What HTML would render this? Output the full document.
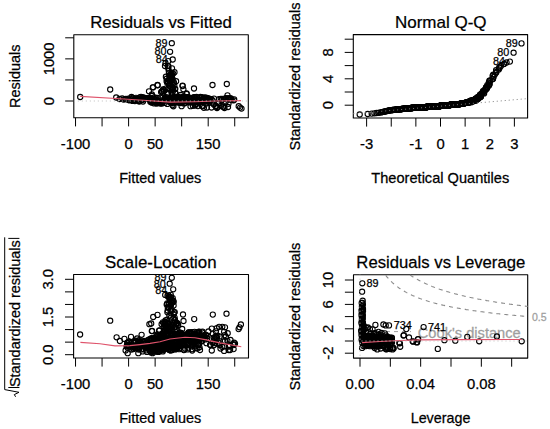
<!DOCTYPE html>
<html><head><meta charset="utf-8"><style>
html,body{margin:0;padding:0;background:#fff;}
svg{display:block;}
text{font-family:"Liberation Sans", sans-serif;stroke-width:0.25px;}
</style></head><body>
<svg width="550" height="429" viewBox="0 0 550 429">
<rect width="550" height="429" fill="#fff"/>
<rect x="73.80" y="34.80" width="174.50" height="83.00" fill="none" stroke="#000" stroke-width="1.1" stroke-linejoin="round"/>
<line x1="75.54" y1="117.80" x2="75.54" y2="126.40" stroke="#000" stroke-width="1" />
<line x1="102.07" y1="117.80" x2="102.07" y2="126.40" stroke="#000" stroke-width="1" />
<line x1="128.60" y1="117.80" x2="128.60" y2="126.40" stroke="#000" stroke-width="1" />
<line x1="155.13" y1="117.80" x2="155.13" y2="126.40" stroke="#000" stroke-width="1" />
<line x1="181.66" y1="117.80" x2="181.66" y2="126.40" stroke="#000" stroke-width="1" />
<line x1="208.19" y1="117.80" x2="208.19" y2="126.40" stroke="#000" stroke-width="1" />
<line x1="234.72" y1="117.80" x2="234.72" y2="126.40" stroke="#000" stroke-width="1" />
<text x="75.54" y="149.30" font-size="14.8" text-anchor="middle" fill="#000" stroke="#000" >-100</text>
<text x="128.60" y="149.30" font-size="14.8" text-anchor="middle" fill="#000" stroke="#000" >0</text>
<text x="155.13" y="149.30" font-size="14.8" text-anchor="middle" fill="#000" stroke="#000" >50</text>
<text x="208.19" y="149.30" font-size="14.8" text-anchor="middle" fill="#000" stroke="#000" >150</text>
<line x1="65.20" y1="101.00" x2="73.80" y2="101.00" stroke="#000" stroke-width="1" />
<line x1="65.20" y1="79.94" x2="73.80" y2="79.94" stroke="#000" stroke-width="1" />
<line x1="65.20" y1="58.87" x2="73.80" y2="58.87" stroke="#000" stroke-width="1" />
<line x1="65.20" y1="37.80" x2="73.80" y2="37.80" stroke="#000" stroke-width="1" />
<text x="53.80" y="101.00" font-size="14.8" text-anchor="middle" fill="#000" stroke="#000" transform="rotate(-90 53.80 101.00)" >0</text>
<text x="53.80" y="58.87" font-size="14.8" text-anchor="middle" fill="#000" stroke="#000" transform="rotate(-90 53.80 58.87)" >1000</text>
<text transform="translate(91.10 27.80) scale(0.9643 1)" x="-0.99" y="0" font-size="17.4" fill="#000" stroke="#000" >Residuals vs Fitted</text>
<text transform="translate(120.10 183.20) scale(0.9930 1)" x="-0.96" y="0" font-size="14.6" fill="#000" stroke="#000" >Fitted values</text>
<text transform="translate(19.80 107.00) rotate(-90) scale(0.9891 1)" x="-0.96" y="0" font-size="14.6" fill="#000" stroke="#000" >Residuals</text>
<rect x="353.30" y="34.60" width="174.30" height="83.40" fill="none" stroke="#000" stroke-width="1.1" stroke-linejoin="round"/>
<line x1="366.61" y1="118.00" x2="366.61" y2="126.60" stroke="#000" stroke-width="1" />
<line x1="391.24" y1="118.00" x2="391.24" y2="126.60" stroke="#000" stroke-width="1" />
<line x1="415.87" y1="118.00" x2="415.87" y2="126.60" stroke="#000" stroke-width="1" />
<line x1="440.50" y1="118.00" x2="440.50" y2="126.60" stroke="#000" stroke-width="1" />
<line x1="465.13" y1="118.00" x2="465.13" y2="126.60" stroke="#000" stroke-width="1" />
<line x1="489.76" y1="118.00" x2="489.76" y2="126.60" stroke="#000" stroke-width="1" />
<line x1="514.39" y1="118.00" x2="514.39" y2="126.60" stroke="#000" stroke-width="1" />
<text x="366.61" y="149.30" font-size="14.8" text-anchor="middle" fill="#000" stroke="#000" >-3</text>
<text x="415.87" y="149.30" font-size="14.8" text-anchor="middle" fill="#000" stroke="#000" >-1</text>
<text x="440.50" y="149.30" font-size="14.8" text-anchor="middle" fill="#000" stroke="#000" >0</text>
<text x="465.13" y="149.30" font-size="14.8" text-anchor="middle" fill="#000" stroke="#000" >1</text>
<text x="489.76" y="149.30" font-size="14.8" text-anchor="middle" fill="#000" stroke="#000" >2</text>
<text x="514.39" y="149.30" font-size="14.8" text-anchor="middle" fill="#000" stroke="#000" >3</text>
<line x1="344.70" y1="105.20" x2="353.30" y2="105.20" stroke="#000" stroke-width="1" />
<line x1="344.70" y1="92.00" x2="353.30" y2="92.00" stroke="#000" stroke-width="1" />
<line x1="344.70" y1="78.80" x2="353.30" y2="78.80" stroke="#000" stroke-width="1" />
<line x1="344.70" y1="65.60" x2="353.30" y2="65.60" stroke="#000" stroke-width="1" />
<line x1="344.70" y1="52.40" x2="353.30" y2="52.40" stroke="#000" stroke-width="1" />
<line x1="344.70" y1="39.20" x2="353.30" y2="39.20" stroke="#000" stroke-width="1" />
<text x="333.30" y="105.20" font-size="14.8" text-anchor="middle" fill="#000" stroke="#000" transform="rotate(-90 333.30 105.20)" >0</text>
<text x="333.30" y="78.80" font-size="14.8" text-anchor="middle" fill="#000" stroke="#000" transform="rotate(-90 333.30 78.80)" >4</text>
<text x="333.30" y="52.40" font-size="14.8" text-anchor="middle" fill="#000" stroke="#000" transform="rotate(-90 333.30 52.40)" >8</text>
<text transform="translate(395.90 27.80) scale(0.9780 1)" x="-0.99" y="0" font-size="17.4" fill="#000" stroke="#000" >Normal Q-Q</text>
<text transform="translate(371.70 183.20) scale(1.0004 1)" x="-0.38" y="0" font-size="14.6" fill="#000" stroke="#000" >Theoretical Quantiles</text>
<text transform="translate(299.60 149.60) rotate(-90) scale(0.9960 1)" x="-0.86" y="0" font-size="14.6" fill="#000" stroke="#000" >Standardized residuals</text>
<rect x="73.60" y="274.50" width="174.90" height="83.50" fill="none" stroke="#000" stroke-width="1.1" stroke-linejoin="round"/>
<line x1="75.54" y1="358.00" x2="75.54" y2="366.60" stroke="#000" stroke-width="1" />
<line x1="102.07" y1="358.00" x2="102.07" y2="366.60" stroke="#000" stroke-width="1" />
<line x1="128.60" y1="358.00" x2="128.60" y2="366.60" stroke="#000" stroke-width="1" />
<line x1="155.13" y1="358.00" x2="155.13" y2="366.60" stroke="#000" stroke-width="1" />
<line x1="181.66" y1="358.00" x2="181.66" y2="366.60" stroke="#000" stroke-width="1" />
<line x1="208.19" y1="358.00" x2="208.19" y2="366.60" stroke="#000" stroke-width="1" />
<line x1="234.72" y1="358.00" x2="234.72" y2="366.60" stroke="#000" stroke-width="1" />
<text x="75.54" y="389.30" font-size="14.8" text-anchor="middle" fill="#000" stroke="#000" >-100</text>
<text x="128.60" y="389.30" font-size="14.8" text-anchor="middle" fill="#000" stroke="#000" >0</text>
<text x="155.13" y="389.30" font-size="14.8" text-anchor="middle" fill="#000" stroke="#000" >50</text>
<text x="208.19" y="389.30" font-size="14.8" text-anchor="middle" fill="#000" stroke="#000" >150</text>
<line x1="65.00" y1="354.70" x2="73.60" y2="354.70" stroke="#000" stroke-width="1" />
<line x1="65.00" y1="342.13" x2="73.60" y2="342.13" stroke="#000" stroke-width="1" />
<line x1="65.00" y1="329.57" x2="73.60" y2="329.57" stroke="#000" stroke-width="1" />
<line x1="65.00" y1="317.00" x2="73.60" y2="317.00" stroke="#000" stroke-width="1" />
<line x1="65.00" y1="304.44" x2="73.60" y2="304.44" stroke="#000" stroke-width="1" />
<line x1="65.00" y1="291.88" x2="73.60" y2="291.88" stroke="#000" stroke-width="1" />
<line x1="65.00" y1="279.31" x2="73.60" y2="279.31" stroke="#000" stroke-width="1" />
<text x="53.30" y="354.70" font-size="14.8" text-anchor="middle" fill="#000" stroke="#000" transform="rotate(-90 53.30 354.70)" >0.0</text>
<text x="53.30" y="317.00" font-size="14.8" text-anchor="middle" fill="#000" stroke="#000" transform="rotate(-90 53.30 317.00)" >1.5</text>
<text x="53.30" y="279.31" font-size="14.8" text-anchor="middle" fill="#000" stroke="#000" transform="rotate(-90 53.30 279.31)" >3.0</text>
<text transform="translate(105.90 267.70) scale(0.9698 1)" x="-0.85" y="0" font-size="17.4" fill="#000" stroke="#000" >Scale-Location</text>
<text transform="translate(120.20 423.30) scale(0.9917 1)" x="-0.96" y="0" font-size="14.6" fill="#000" stroke="#000" >Fitted values</text>
<text transform="translate(19.50 386.20) rotate(-90) scale(0.9886 1)" x="-0.86" y="0" font-size="14.6" fill="#000" stroke="#000" >Standardized residuals</text>
<path d="M19.4 238.4 L8.3 238.4 M19.4 387.5 L8.3 387.5" stroke="#000" stroke-width="1"/>
<path d="M4.7 237.3 L4.7 389.6 L19.0 392.3 L14.3 394.6 L15.6 396.8" fill="none" stroke="#000" stroke-width="1" stroke-linejoin="round"/>
<rect x="353.50" y="274.70" width="174.20" height="83.40" fill="none" stroke="#000" stroke-width="1.1" stroke-linejoin="round"/>
<line x1="360.00" y1="358.10" x2="360.00" y2="366.70" stroke="#000" stroke-width="1" />
<line x1="390.33" y1="358.10" x2="390.33" y2="366.70" stroke="#000" stroke-width="1" />
<line x1="420.67" y1="358.10" x2="420.67" y2="366.70" stroke="#000" stroke-width="1" />
<line x1="451.00" y1="358.10" x2="451.00" y2="366.70" stroke="#000" stroke-width="1" />
<line x1="481.34" y1="358.10" x2="481.34" y2="366.70" stroke="#000" stroke-width="1" />
<line x1="511.67" y1="358.10" x2="511.67" y2="366.70" stroke="#000" stroke-width="1" />
<text x="360.00" y="389.30" font-size="14.8" text-anchor="middle" fill="#000" stroke="#000" >0.00</text>
<text x="420.67" y="389.30" font-size="14.8" text-anchor="middle" fill="#000" stroke="#000" >0.04</text>
<text x="481.34" y="389.30" font-size="14.8" text-anchor="middle" fill="#000" stroke="#000" >0.08</text>
<line x1="344.90" y1="353.20" x2="353.50" y2="353.20" stroke="#000" stroke-width="1" />
<line x1="344.90" y1="341.00" x2="353.50" y2="341.00" stroke="#000" stroke-width="1" />
<line x1="344.90" y1="328.80" x2="353.50" y2="328.80" stroke="#000" stroke-width="1" />
<line x1="344.90" y1="316.60" x2="353.50" y2="316.60" stroke="#000" stroke-width="1" />
<line x1="344.90" y1="304.40" x2="353.50" y2="304.40" stroke="#000" stroke-width="1" />
<line x1="344.90" y1="292.20" x2="353.50" y2="292.20" stroke="#000" stroke-width="1" />
<line x1="344.90" y1="280.00" x2="353.50" y2="280.00" stroke="#000" stroke-width="1" />
<text x="333.30" y="353.20" font-size="14.8" text-anchor="middle" fill="#000" stroke="#000" transform="rotate(-90 333.30 353.20)" >-2</text>
<text x="333.30" y="328.80" font-size="14.8" text-anchor="middle" fill="#000" stroke="#000" transform="rotate(-90 333.30 328.80)" >2</text>
<text x="333.30" y="304.40" font-size="14.8" text-anchor="middle" fill="#000" stroke="#000" transform="rotate(-90 333.30 304.40)" >6</text>
<text x="333.30" y="280.00" font-size="14.8" text-anchor="middle" fill="#000" stroke="#000" transform="rotate(-90 333.30 280.00)" >10</text>
<text transform="translate(357.30 267.70) scale(0.9600 1)" x="-0.99" y="0" font-size="17.4" fill="#000" stroke="#000" >Residuals vs Leverage</text>
<text transform="translate(411.60 423.30) scale(0.9809 1)" x="-0.96" y="0" font-size="14.6" fill="#000" stroke="#000" >Leverage</text>
<text transform="translate(299.60 389.60) rotate(-90) scale(0.9947 1)" x="-0.86" y="0" font-size="14.6" fill="#000" stroke="#000" >Standardized residuals</text>
<g fill="none" stroke="#000" stroke-width="1.1">
<circle cx="80.2" cy="97.0" r="2.6"/>
<circle cx="110.2" cy="89.5" r="2.6"/>
<circle cx="116.2" cy="97.5" r="2.6"/>
<circle cx="119.5" cy="99.0" r="2.6"/>
<circle cx="131.5" cy="97.0" r="2.6"/>
<circle cx="141.0" cy="96.8" r="2.6"/>
<circle cx="149.0" cy="91.3" r="2.6"/>
<circle cx="153.2" cy="87.3" r="2.6"/>
<circle cx="157.5" cy="85.0" r="2.6"/>
<circle cx="152.0" cy="96.0" r="2.6"/>
<circle cx="162.0" cy="91.5" r="2.6"/>
<circle cx="151.9" cy="94.5" r="2.6"/>
<circle cx="182.6" cy="85.6" r="2.6"/>
<circle cx="183.4" cy="89.3" r="2.6"/>
<circle cx="186.8" cy="94.0" r="2.6"/>
<circle cx="180.8" cy="95.0" r="2.6"/>
<circle cx="186.5" cy="93.5" r="2.6"/>
<circle cx="194.0" cy="88.5" r="2.6"/>
<circle cx="212.5" cy="85.0" r="2.6"/>
<circle cx="226.8" cy="84.0" r="2.6"/>
<circle cx="227.5" cy="95.3" r="2.6"/>
<circle cx="211.5" cy="107.5" r="2.6"/>
<circle cx="217.0" cy="108.0" r="2.6"/>
<circle cx="224.5" cy="108.0" r="2.6"/>
<circle cx="203.0" cy="106.0" r="2.6"/>
<circle cx="195.0" cy="105.5" r="2.6"/>
<circle cx="221.0" cy="106.0" r="2.6"/>
<circle cx="207.0" cy="107.5" r="2.6"/>
<circle cx="228.0" cy="107.0" r="2.6"/>
<circle cx="238.7" cy="106.2" r="2.6"/>
<circle cx="240.1" cy="107.6" r="2.6"/>
<circle cx="241.5" cy="108.6" r="2.6"/>
<circle cx="171.8" cy="43.2" r="2.6"/>
<circle cx="170.1" cy="51.8" r="2.6"/>
<circle cx="172.7" cy="59.5" r="2.6"/>
<circle cx="168.3" cy="61.1" r="2.6"/>
<circle cx="165.5" cy="63.2" r="2.6"/>
<circle cx="165.0" cy="66.0" r="2.6"/>
<circle cx="165.9" cy="76.7" r="2.6"/>
<circle cx="166.7" cy="78.7" r="2.6"/>
<circle cx="174.5" cy="72.2" r="2.6"/>
<circle cx="176.1" cy="81.2" r="2.6"/>
<circle cx="157.7" cy="85.3" r="2.6"/>
<circle cx="152.8" cy="87.3" r="2.6"/>
<circle cx="182.6" cy="86.1" r="2.6"/>
<circle cx="136.0" cy="100.0" r="2.6"/>
<circle cx="204.6" cy="99.8" r="2.6"/>
<circle cx="212.6" cy="100.6" r="2.6"/>
<circle cx="128.4" cy="100.0" r="2.6"/>
<circle cx="229.8" cy="99.0" r="2.6"/>
<circle cx="155.2" cy="102.6" r="2.6"/>
<circle cx="142.9" cy="97.7" r="2.6"/>
<circle cx="141.1" cy="99.1" r="2.6"/>
<circle cx="194.9" cy="97.2" r="2.6"/>
<circle cx="209.5" cy="100.9" r="2.6"/>
<circle cx="225.9" cy="98.2" r="2.6"/>
<circle cx="171.4" cy="101.5" r="2.6"/>
<circle cx="190.3" cy="102.2" r="2.6"/>
<circle cx="209.7" cy="100.4" r="2.6"/>
<circle cx="152.9" cy="101.1" r="2.6"/>
<circle cx="180.8" cy="99.0" r="2.6"/>
<circle cx="218.9" cy="99.2" r="2.6"/>
<circle cx="175.6" cy="102.5" r="2.6"/>
<circle cx="195.2" cy="98.3" r="2.6"/>
<circle cx="179.1" cy="100.3" r="2.6"/>
<circle cx="187.2" cy="97.4" r="2.6"/>
<circle cx="201.6" cy="97.2" r="2.6"/>
<circle cx="144.6" cy="98.8" r="2.6"/>
<circle cx="191.7" cy="101.6" r="2.6"/>
<circle cx="206.6" cy="100.9" r="2.6"/>
<circle cx="132.3" cy="97.8" r="2.6"/>
<circle cx="180.5" cy="102.2" r="2.6"/>
<circle cx="143.5" cy="99.4" r="2.6"/>
<circle cx="228.6" cy="99.5" r="2.6"/>
<circle cx="202.4" cy="101.3" r="2.6"/>
<circle cx="196.2" cy="100.2" r="2.6"/>
<circle cx="182.8" cy="102.0" r="2.6"/>
<circle cx="142.2" cy="98.3" r="2.6"/>
<circle cx="194.0" cy="97.2" r="2.6"/>
<circle cx="166.0" cy="100.7" r="2.6"/>
<circle cx="174.5" cy="99.1" r="2.6"/>
<circle cx="172.1" cy="97.8" r="2.6"/>
<circle cx="186.8" cy="98.3" r="2.6"/>
<circle cx="136.0" cy="97.9" r="2.6"/>
<circle cx="167.3" cy="103.9" r="2.6"/>
<circle cx="165.9" cy="98.4" r="2.6"/>
<circle cx="202.1" cy="97.8" r="2.6"/>
<circle cx="150.8" cy="98.5" r="2.6"/>
<circle cx="128.4" cy="98.7" r="2.6"/>
<circle cx="194.2" cy="101.4" r="2.6"/>
<circle cx="160.3" cy="101.8" r="2.6"/>
<circle cx="171.0" cy="102.2" r="2.6"/>
<circle cx="160.2" cy="102.8" r="2.6"/>
<circle cx="201.3" cy="100.4" r="2.6"/>
<circle cx="139.4" cy="99.4" r="2.6"/>
<circle cx="171.3" cy="98.0" r="2.6"/>
<circle cx="183.3" cy="98.4" r="2.6"/>
<circle cx="192.2" cy="101.5" r="2.6"/>
<circle cx="134.9" cy="101.1" r="2.6"/>
<circle cx="187.4" cy="97.1" r="2.6"/>
<circle cx="154.2" cy="103.4" r="2.6"/>
<circle cx="186.7" cy="98.1" r="2.6"/>
<circle cx="165.0" cy="100.0" r="2.6"/>
<circle cx="207.8" cy="101.0" r="2.6"/>
<circle cx="205.2" cy="99.3" r="2.6"/>
<circle cx="151.9" cy="102.3" r="2.6"/>
<circle cx="210.2" cy="99.1" r="2.6"/>
<circle cx="178.3" cy="100.7" r="2.6"/>
<circle cx="178.7" cy="97.9" r="2.6"/>
<circle cx="186.7" cy="98.1" r="2.6"/>
<circle cx="133.1" cy="98.7" r="2.6"/>
<circle cx="159.2" cy="102.6" r="2.6"/>
<circle cx="155.9" cy="97.9" r="2.6"/>
<circle cx="150.3" cy="101.7" r="2.6"/>
<circle cx="170.9" cy="102.5" r="2.6"/>
<circle cx="168.8" cy="99.4" r="2.6"/>
<circle cx="141.7" cy="97.7" r="2.6"/>
<circle cx="150.1" cy="98.0" r="2.6"/>
<circle cx="230.0" cy="98.4" r="2.6"/>
<circle cx="122.2" cy="98.4" r="2.6"/>
<circle cx="196.5" cy="97.0" r="2.6"/>
<circle cx="160.2" cy="97.6" r="2.6"/>
<circle cx="191.1" cy="99.3" r="2.6"/>
<circle cx="209.5" cy="100.5" r="2.6"/>
<circle cx="211.5" cy="99.2" r="2.6"/>
<circle cx="227.8" cy="98.3" r="2.6"/>
<circle cx="187.0" cy="101.0" r="2.6"/>
<circle cx="203.4" cy="98.6" r="2.6"/>
<circle cx="165.5" cy="98.9" r="2.6"/>
<circle cx="158.8" cy="102.6" r="2.6"/>
<circle cx="191.3" cy="98.2" r="2.6"/>
<circle cx="177.4" cy="97.0" r="2.6"/>
<circle cx="158.2" cy="101.9" r="2.6"/>
<circle cx="188.7" cy="100.2" r="2.6"/>
<circle cx="200.4" cy="100.4" r="2.6"/>
<circle cx="181.6" cy="102.4" r="2.6"/>
<circle cx="200.4" cy="97.0" r="2.6"/>
<circle cx="231.9" cy="100.2" r="2.6"/>
<circle cx="151.5" cy="102.6" r="2.6"/>
<circle cx="183.7" cy="103.4" r="2.6"/>
<circle cx="129.6" cy="100.3" r="2.6"/>
<circle cx="195.4" cy="101.4" r="2.6"/>
<circle cx="181.0" cy="99.0" r="2.6"/>
<circle cx="178.2" cy="99.5" r="2.6"/>
<circle cx="184.8" cy="103.2" r="2.6"/>
<circle cx="198.7" cy="99.9" r="2.6"/>
<circle cx="168.6" cy="99.9" r="2.6"/>
<circle cx="203.0" cy="98.6" r="2.6"/>
<circle cx="142.1" cy="99.9" r="2.6"/>
<circle cx="193.4" cy="100.6" r="2.6"/>
<circle cx="221.3" cy="100.1" r="2.6"/>
<circle cx="143.0" cy="101.5" r="2.6"/>
<circle cx="165.9" cy="97.1" r="2.6"/>
<circle cx="208.3" cy="98.2" r="2.6"/>
<circle cx="174.4" cy="97.6" r="2.6"/>
<circle cx="155.2" cy="100.6" r="2.6"/>
<circle cx="164.5" cy="99.4" r="2.6"/>
<circle cx="202.2" cy="101.8" r="2.6"/>
<circle cx="132.6" cy="100.9" r="2.6"/>
<circle cx="169.1" cy="99.4" r="2.6"/>
<circle cx="197.4" cy="98.4" r="2.6"/>
<circle cx="179.7" cy="97.6" r="2.6"/>
<circle cx="207.1" cy="99.2" r="2.6"/>
<circle cx="231.1" cy="99.1" r="2.6"/>
<circle cx="151.6" cy="99.7" r="2.6"/>
<circle cx="234.2" cy="99.4" r="2.6"/>
<circle cx="153.0" cy="100.7" r="2.6"/>
<circle cx="193.4" cy="102.5" r="2.6"/>
<circle cx="202.0" cy="101.8" r="2.6"/>
<circle cx="167.2" cy="99.8" r="2.6"/>
<circle cx="233.8" cy="100.3" r="2.6"/>
<circle cx="208.0" cy="99.2" r="2.6"/>
<circle cx="180.1" cy="99.5" r="2.6"/>
<circle cx="143.5" cy="97.5" r="2.6"/>
<circle cx="180.7" cy="103.0" r="2.6"/>
<circle cx="223.8" cy="99.1" r="2.6"/>
<circle cx="206.3" cy="101.0" r="2.6"/>
<circle cx="152.6" cy="101.6" r="2.6"/>
<circle cx="228.3" cy="98.4" r="2.6"/>
<circle cx="137.3" cy="98.8" r="2.6"/>
<circle cx="170.7" cy="100.4" r="2.6"/>
<circle cx="146.3" cy="98.2" r="2.6"/>
<circle cx="136.1" cy="100.1" r="2.6"/>
<circle cx="135.6" cy="99.1" r="2.6"/>
<circle cx="139.2" cy="101.5" r="2.6"/>
<circle cx="191.6" cy="98.1" r="2.6"/>
<circle cx="225.1" cy="98.7" r="2.6"/>
<circle cx="184.7" cy="101.1" r="2.6"/>
<circle cx="186.7" cy="99.0" r="2.6"/>
<circle cx="184.6" cy="100.2" r="2.6"/>
<circle cx="152.1" cy="99.6" r="2.6"/>
<circle cx="168.8" cy="101.0" r="2.6"/>
<circle cx="132.9" cy="100.1" r="2.6"/>
<circle cx="202.3" cy="100.8" r="2.6"/>
<circle cx="172.2" cy="101.5" r="2.6"/>
<circle cx="154.7" cy="99.5" r="2.6"/>
<circle cx="158.2" cy="101.5" r="2.6"/>
<circle cx="172.6" cy="101.0" r="2.6"/>
<circle cx="183.2" cy="100.9" r="2.6"/>
<circle cx="205.9" cy="100.9" r="2.6"/>
<circle cx="183.8" cy="97.1" r="2.6"/>
<circle cx="153.1" cy="101.3" r="2.6"/>
<circle cx="182.2" cy="100.7" r="2.6"/>
<circle cx="177.5" cy="96.6" r="2.6"/>
<circle cx="174.9" cy="101.7" r="2.6"/>
<circle cx="148.4" cy="98.1" r="2.6"/>
<circle cx="123.6" cy="99.5" r="2.6"/>
<circle cx="185.2" cy="97.0" r="2.6"/>
<circle cx="140.7" cy="99.4" r="2.6"/>
<circle cx="185.7" cy="98.8" r="2.6"/>
<circle cx="125.9" cy="99.0" r="2.6"/>
<circle cx="202.1" cy="101.0" r="2.6"/>
<circle cx="191.4" cy="102.4" r="2.6"/>
<circle cx="187.2" cy="98.9" r="2.6"/>
<circle cx="125.1" cy="99.1" r="2.6"/>
<circle cx="188.6" cy="102.3" r="2.6"/>
<circle cx="220.7" cy="98.8" r="2.6"/>
<circle cx="184.3" cy="96.7" r="2.6"/>
<circle cx="173.4" cy="103.3" r="2.6"/>
<circle cx="196.9" cy="102.1" r="2.6"/>
<circle cx="181.0" cy="100.8" r="2.6"/>
<circle cx="194.8" cy="102.3" r="2.6"/>
<circle cx="178.5" cy="97.6" r="2.6"/>
<circle cx="138.7" cy="100.9" r="2.6"/>
<circle cx="162.0" cy="103.6" r="2.6"/>
<circle cx="154.2" cy="100.3" r="2.6"/>
<circle cx="161.2" cy="102.2" r="2.6"/>
<circle cx="205.1" cy="99.9" r="2.6"/>
<circle cx="137.5" cy="99.8" r="2.6"/>
<circle cx="171.0" cy="99.7" r="2.6"/>
<circle cx="187.9" cy="101.8" r="2.6"/>
<circle cx="162.4" cy="97.8" r="2.6"/>
<circle cx="199.2" cy="100.5" r="2.6"/>
<circle cx="157.6" cy="97.8" r="2.6"/>
<circle cx="176.8" cy="100.5" r="2.6"/>
<circle cx="229.6" cy="98.4" r="2.6"/>
<circle cx="160.3" cy="103.5" r="2.6"/>
<circle cx="196.6" cy="100.2" r="2.6"/>
<circle cx="151.5" cy="101.7" r="2.6"/>
<circle cx="171.0" cy="101.4" r="2.6"/>
<circle cx="171.5" cy="103.2" r="2.6"/>
<circle cx="170.2" cy="101.9" r="2.6"/>
<circle cx="153.7" cy="101.9" r="2.6"/>
<circle cx="164.7" cy="102.9" r="2.6"/>
<circle cx="140.0" cy="99.1" r="2.6"/>
<circle cx="149.7" cy="99.5" r="2.6"/>
<circle cx="161.7" cy="100.4" r="2.6"/>
<circle cx="156.8" cy="103.6" r="2.6"/>
<circle cx="176.0" cy="101.6" r="2.6"/>
<circle cx="139.8" cy="97.4" r="2.6"/>
<circle cx="179.3" cy="102.4" r="2.6"/>
<circle cx="230.9" cy="98.5" r="2.6"/>
<circle cx="204.5" cy="97.3" r="2.6"/>
<circle cx="163.6" cy="100.6" r="2.6"/>
<circle cx="192.4" cy="97.9" r="2.6"/>
<circle cx="167.1" cy="97.6" r="2.6"/>
<circle cx="161.4" cy="102.9" r="2.6"/>
<circle cx="147.1" cy="98.9" r="2.6"/>
<circle cx="189.4" cy="97.8" r="2.6"/>
<circle cx="222.2" cy="98.9" r="2.6"/>
<circle cx="154.3" cy="98.9" r="2.6"/>
<circle cx="172.1" cy="99.9" r="2.6"/>
<circle cx="166.4" cy="99.6" r="2.6"/>
<circle cx="206.0" cy="100.2" r="2.6"/>
<circle cx="182.5" cy="100.7" r="2.6"/>
<circle cx="179.4" cy="102.2" r="2.6"/>
<circle cx="196.6" cy="102.4" r="2.6"/>
<circle cx="179.1" cy="102.7" r="2.6"/>
<circle cx="171.0" cy="101.8" r="2.6"/>
<circle cx="202.6" cy="99.9" r="2.6"/>
<circle cx="144.8" cy="98.4" r="2.6"/>
<circle cx="154.5" cy="97.4" r="2.6"/>
<circle cx="189.0" cy="101.1" r="2.6"/>
<circle cx="188.8" cy="97.4" r="2.6"/>
<circle cx="134.5" cy="100.1" r="2.6"/>
<circle cx="214.0" cy="98.6" r="2.6"/>
<circle cx="180.6" cy="96.8" r="2.6"/>
<circle cx="201.9" cy="101.7" r="2.6"/>
<circle cx="184.1" cy="99.6" r="2.6"/>
<circle cx="150.9" cy="100.9" r="2.6"/>
<circle cx="172.7" cy="100.4" r="2.6"/>
<circle cx="185.0" cy="97.1" r="2.6"/>
<circle cx="196.9" cy="101.5" r="2.6"/>
<circle cx="157.3" cy="102.8" r="2.6"/>
<circle cx="206.1" cy="97.7" r="2.6"/>
<circle cx="209.2" cy="102.1" r="2.6"/>
<circle cx="201.9" cy="106.0" r="2.6"/>
<circle cx="190.5" cy="106.2" r="2.6"/>
<circle cx="195.5" cy="104.4" r="2.6"/>
<circle cx="192.9" cy="105.8" r="2.6"/>
<circle cx="199.5" cy="103.0" r="2.6"/>
<circle cx="215.5" cy="106.0" r="2.6"/>
<circle cx="228.5" cy="103.8" r="2.6"/>
<circle cx="196.3" cy="104.0" r="2.6"/>
<circle cx="197.9" cy="106.1" r="2.6"/>
<circle cx="206.2" cy="103.4" r="2.6"/>
<circle cx="173.4" cy="106.3" r="2.6"/>
<circle cx="172.6" cy="105.2" r="2.6"/>
<circle cx="181.6" cy="106.2" r="2.6"/>
<circle cx="218.6" cy="103.5" r="2.6"/>
<circle cx="213.8" cy="104.4" r="2.6"/>
<circle cx="203.9" cy="107.8" r="2.6"/>
<circle cx="216.2" cy="106.2" r="2.6"/>
<circle cx="225.7" cy="101.5" r="2.6"/>
<circle cx="217.2" cy="106.9" r="2.6"/>
<circle cx="223.8" cy="107.1" r="2.6"/>
<circle cx="222.7" cy="106.6" r="2.6"/>
<circle cx="171.5" cy="72.8" r="2.6"/>
<circle cx="171.6" cy="77.9" r="2.6"/>
<circle cx="171.7" cy="76.5" r="2.6"/>
<circle cx="168.3" cy="68.4" r="2.6"/>
<circle cx="172.7" cy="79.1" r="2.6"/>
<circle cx="169.2" cy="76.0" r="2.6"/>
<circle cx="171.8" cy="80.8" r="2.6"/>
<circle cx="167.7" cy="81.3" r="2.6"/>
<circle cx="170.1" cy="82.9" r="2.6"/>
<circle cx="169.0" cy="73.2" r="2.6"/>
<circle cx="171.8" cy="74.1" r="2.6"/>
<circle cx="170.8" cy="74.3" r="2.6"/>
<circle cx="172.4" cy="86.9" r="2.6"/>
<circle cx="169.6" cy="88.5" r="2.6"/>
<circle cx="169.3" cy="79.5" r="2.6"/>
<circle cx="168.5" cy="82.8" r="2.6"/>
<circle cx="171.4" cy="87.6" r="2.6"/>
<circle cx="171.7" cy="76.9" r="2.6"/>
<circle cx="168.6" cy="88.3" r="2.6"/>
<circle cx="166.6" cy="81.2" r="2.6"/>
<circle cx="169.3" cy="80.6" r="2.6"/>
<circle cx="168.4" cy="66.2" r="2.6"/>
<circle cx="168.8" cy="70.9" r="2.6"/>
<circle cx="173.2" cy="73.6" r="2.6"/>
<circle cx="167.2" cy="82.8" r="2.6"/>
<circle cx="174.3" cy="85.2" r="2.6"/>
<circle cx="169.5" cy="85.6" r="2.6"/>
<circle cx="172.0" cy="68.4" r="2.6"/>
<circle cx="174.7" cy="89.1" r="2.6"/>
<circle cx="172.8" cy="87.8" r="2.6"/>
<circle cx="172.9" cy="88.9" r="2.6"/>
<circle cx="171.9" cy="75.3" r="2.6"/>
<circle cx="173.9" cy="82.4" r="2.6"/>
<circle cx="165.6" cy="88.6" r="2.6"/>
<circle cx="171.4" cy="75.5" r="2.6"/>
<circle cx="175.3" cy="88.8" r="2.6"/>
<circle cx="167.8" cy="65.8" r="2.6"/>
<circle cx="173.6" cy="83.1" r="2.6"/>
<circle cx="170.1" cy="77.6" r="2.6"/>
<circle cx="171.4" cy="75.2" r="2.6"/>
<circle cx="175.3" cy="93.4" r="2.6"/>
<circle cx="163.2" cy="89.5" r="2.6"/>
<circle cx="172.5" cy="89.7" r="2.6"/>
<circle cx="167.2" cy="94.3" r="2.6"/>
<circle cx="163.4" cy="89.6" r="2.6"/>
<circle cx="161.1" cy="92.1" r="2.6"/>
<circle cx="162.4" cy="91.5" r="2.6"/>
<circle cx="175.6" cy="93.3" r="2.6"/>
<circle cx="168.0" cy="93.7" r="2.6"/>
<circle cx="171.7" cy="94.0" r="2.6"/>
<circle cx="164.0" cy="91.2" r="2.6"/>
<circle cx="171.9" cy="94.7" r="2.6"/>
<circle cx="172.8" cy="91.8" r="2.6"/>
</g>
<path d="M80.2 96.4 L120.0 98.8 L147.0 100.5 L170.0 102.1 L195.0 101.7 L215.0 101.0 L241.0 100.6" fill="none" stroke="#DF536B" stroke-width="1.1"/>
<line x1="73.8" y1="101.0" x2="248.3" y2="101.0" stroke="#BEBEBE" stroke-width="1" stroke-dasharray="1 3"/>
<text x="167.4" y="46.6" font-size="10.8" text-anchor="end" stroke="#000">89</text>
<text x="166.6" y="55.1" font-size="10.8" text-anchor="end" stroke="#000">80</text>
<text x="167.8" y="62.9" font-size="10.8" text-anchor="end" stroke="#000">84</text>
<g fill="none" stroke="#000" stroke-width="1.1">
<circle cx="359.7" cy="114.5" r="2.6"/>
<circle cx="367.7" cy="114.0" r="2.6"/>
<circle cx="371.7" cy="113.6" r="2.6"/>
<circle cx="374.4" cy="113.3" r="2.6"/>
<circle cx="376.5" cy="113.0" r="2.6"/>
<circle cx="378.2" cy="112.8" r="2.6"/>
<circle cx="379.7" cy="112.6" r="2.6"/>
<circle cx="381.0" cy="112.4" r="2.6"/>
<circle cx="382.1" cy="112.1" r="2.6"/>
<circle cx="383.1" cy="111.9" r="2.6"/>
<circle cx="384.0" cy="111.7" r="2.6"/>
<circle cx="384.9" cy="111.5" r="2.6"/>
<circle cx="385.7" cy="111.3" r="2.6"/>
<circle cx="386.4" cy="111.1" r="2.6"/>
<circle cx="387.1" cy="111.0" r="2.6"/>
<circle cx="387.8" cy="110.8" r="2.6"/>
<circle cx="388.4" cy="110.7" r="2.6"/>
<circle cx="389.0" cy="110.5" r="2.6"/>
<circle cx="389.5" cy="110.4" r="2.6"/>
<circle cx="390.1" cy="110.3" r="2.6"/>
<circle cx="390.6" cy="110.2" r="2.6"/>
<circle cx="391.1" cy="110.2" r="2.6"/>
<circle cx="391.5" cy="110.1" r="2.6"/>
<circle cx="392.0" cy="110.1" r="2.6"/>
<circle cx="392.4" cy="110.0" r="2.6"/>
<circle cx="392.9" cy="110.0" r="2.6"/>
<circle cx="393.3" cy="109.9" r="2.6"/>
<circle cx="393.7" cy="109.9" r="2.6"/>
<circle cx="394.1" cy="109.9" r="2.6"/>
<circle cx="394.4" cy="109.8" r="2.6"/>
<circle cx="394.8" cy="109.8" r="2.6"/>
<circle cx="395.2" cy="109.7" r="2.6"/>
<circle cx="395.5" cy="109.7" r="2.6"/>
<circle cx="395.8" cy="109.7" r="2.6"/>
<circle cx="396.2" cy="109.6" r="2.6"/>
<circle cx="396.5" cy="109.6" r="2.6"/>
<circle cx="396.8" cy="109.6" r="2.6"/>
<circle cx="397.1" cy="109.5" r="2.6"/>
<circle cx="397.4" cy="109.5" r="2.6"/>
<circle cx="397.7" cy="109.5" r="2.6"/>
<circle cx="398.0" cy="109.4" r="2.6"/>
<circle cx="398.3" cy="109.4" r="2.6"/>
<circle cx="398.6" cy="109.4" r="2.6"/>
<circle cx="398.8" cy="109.3" r="2.6"/>
<circle cx="399.1" cy="109.3" r="2.6"/>
<circle cx="399.4" cy="109.3" r="2.6"/>
<circle cx="399.6" cy="109.2" r="2.6"/>
<circle cx="399.9" cy="109.2" r="2.6"/>
<circle cx="400.1" cy="109.2" r="2.6"/>
<circle cx="400.4" cy="109.2" r="2.6"/>
<circle cx="400.6" cy="109.1" r="2.6"/>
<circle cx="400.8" cy="109.1" r="2.6"/>
<circle cx="401.1" cy="109.1" r="2.6"/>
<circle cx="401.3" cy="109.1" r="2.6"/>
<circle cx="401.5" cy="109.0" r="2.6"/>
<circle cx="401.7" cy="109.0" r="2.6"/>
<circle cx="402.0" cy="109.0" r="2.6"/>
<circle cx="402.2" cy="109.0" r="2.6"/>
<circle cx="402.4" cy="108.9" r="2.6"/>
<circle cx="402.6" cy="108.9" r="2.6"/>
<circle cx="402.8" cy="108.9" r="2.6"/>
<circle cx="403.0" cy="108.9" r="2.6"/>
<circle cx="403.2" cy="108.8" r="2.6"/>
<circle cx="403.4" cy="108.8" r="2.6"/>
<circle cx="403.6" cy="108.8" r="2.6"/>
<circle cx="403.8" cy="108.8" r="2.6"/>
<circle cx="404.0" cy="108.8" r="2.6"/>
<circle cx="404.2" cy="108.7" r="2.6"/>
<circle cx="404.4" cy="108.7" r="2.6"/>
<circle cx="404.6" cy="108.7" r="2.6"/>
<circle cx="404.8" cy="108.7" r="2.6"/>
<circle cx="405.0" cy="108.7" r="2.6"/>
<circle cx="405.1" cy="108.6" r="2.6"/>
<circle cx="405.3" cy="108.6" r="2.6"/>
<circle cx="405.5" cy="108.6" r="2.6"/>
<circle cx="405.7" cy="108.6" r="2.6"/>
<circle cx="405.8" cy="108.6" r="2.6"/>
<circle cx="406.0" cy="108.5" r="2.6"/>
<circle cx="406.2" cy="108.5" r="2.6"/>
<circle cx="406.4" cy="108.5" r="2.6"/>
<circle cx="406.5" cy="108.5" r="2.6"/>
<circle cx="406.7" cy="108.5" r="2.6"/>
<circle cx="406.9" cy="108.4" r="2.6"/>
<circle cx="407.0" cy="108.4" r="2.6"/>
<circle cx="407.2" cy="108.4" r="2.6"/>
<circle cx="407.3" cy="108.4" r="2.6"/>
<circle cx="407.5" cy="108.4" r="2.6"/>
<circle cx="407.7" cy="108.4" r="2.6"/>
<circle cx="407.8" cy="108.3" r="2.6"/>
<circle cx="408.0" cy="108.3" r="2.6"/>
<circle cx="408.1" cy="108.3" r="2.6"/>
<circle cx="408.3" cy="108.3" r="2.6"/>
<circle cx="408.4" cy="108.3" r="2.6"/>
<circle cx="408.6" cy="108.3" r="2.6"/>
<circle cx="408.7" cy="108.2" r="2.6"/>
<circle cx="408.9" cy="108.2" r="2.6"/>
<circle cx="409.0" cy="108.2" r="2.6"/>
<circle cx="409.2" cy="108.2" r="2.6"/>
<circle cx="409.3" cy="108.2" r="2.6"/>
<circle cx="409.4" cy="108.2" r="2.6"/>
<circle cx="409.6" cy="108.1" r="2.6"/>
<circle cx="409.7" cy="108.1" r="2.6"/>
<circle cx="409.9" cy="108.1" r="2.6"/>
<circle cx="410.0" cy="108.1" r="2.6"/>
<circle cx="410.1" cy="108.1" r="2.6"/>
<circle cx="410.3" cy="108.1" r="2.6"/>
<circle cx="410.4" cy="108.1" r="2.6"/>
<circle cx="410.5" cy="108.1" r="2.6"/>
<circle cx="410.7" cy="108.1" r="2.6"/>
<circle cx="410.8" cy="108.1" r="2.6"/>
<circle cx="410.9" cy="108.0" r="2.6"/>
<circle cx="411.1" cy="108.0" r="2.6"/>
<circle cx="411.2" cy="108.0" r="2.6"/>
<circle cx="411.3" cy="108.0" r="2.6"/>
<circle cx="411.5" cy="108.0" r="2.6"/>
<circle cx="411.6" cy="108.0" r="2.6"/>
<circle cx="411.7" cy="108.0" r="2.6"/>
<circle cx="411.9" cy="108.0" r="2.6"/>
<circle cx="412.0" cy="108.0" r="2.6"/>
<circle cx="412.1" cy="108.0" r="2.6"/>
<circle cx="412.2" cy="108.0" r="2.6"/>
<circle cx="412.4" cy="108.0" r="2.6"/>
<circle cx="412.5" cy="108.0" r="2.6"/>
<circle cx="412.6" cy="107.9" r="2.6"/>
<circle cx="412.7" cy="107.9" r="2.6"/>
<circle cx="412.8" cy="107.9" r="2.6"/>
<circle cx="413.0" cy="107.9" r="2.6"/>
<circle cx="413.1" cy="107.9" r="2.6"/>
<circle cx="413.2" cy="107.9" r="2.6"/>
<circle cx="413.3" cy="107.9" r="2.6"/>
<circle cx="413.4" cy="107.9" r="2.6"/>
<circle cx="413.6" cy="107.9" r="2.6"/>
<circle cx="413.7" cy="107.9" r="2.6"/>
<circle cx="413.8" cy="107.9" r="2.6"/>
<circle cx="413.9" cy="107.9" r="2.6"/>
<circle cx="414.0" cy="107.9" r="2.6"/>
<circle cx="414.1" cy="107.9" r="2.6"/>
<circle cx="414.2" cy="107.8" r="2.6"/>
<circle cx="414.4" cy="107.8" r="2.6"/>
<circle cx="414.5" cy="107.8" r="2.6"/>
<circle cx="414.6" cy="107.8" r="2.6"/>
<circle cx="414.7" cy="107.8" r="2.6"/>
<circle cx="414.8" cy="107.8" r="2.6"/>
<circle cx="414.9" cy="107.8" r="2.6"/>
<circle cx="415.0" cy="107.8" r="2.6"/>
<circle cx="415.1" cy="107.8" r="2.6"/>
<circle cx="415.2" cy="107.8" r="2.6"/>
<circle cx="415.4" cy="107.8" r="2.6"/>
<circle cx="415.5" cy="107.8" r="2.6"/>
<circle cx="415.6" cy="107.8" r="2.6"/>
<circle cx="415.7" cy="107.8" r="2.6"/>
<circle cx="415.8" cy="107.8" r="2.6"/>
<circle cx="415.9" cy="107.7" r="2.6"/>
<circle cx="416.0" cy="107.7" r="2.6"/>
<circle cx="416.1" cy="107.7" r="2.6"/>
<circle cx="416.2" cy="107.7" r="2.6"/>
<circle cx="416.3" cy="107.7" r="2.6"/>
<circle cx="416.4" cy="107.7" r="2.6"/>
<circle cx="416.5" cy="107.7" r="2.6"/>
<circle cx="416.6" cy="107.7" r="2.6"/>
<circle cx="416.7" cy="107.7" r="2.6"/>
<circle cx="416.8" cy="107.7" r="2.6"/>
<circle cx="416.9" cy="107.7" r="2.6"/>
<circle cx="417.0" cy="107.7" r="2.6"/>
<circle cx="417.1" cy="107.7" r="2.6"/>
<circle cx="417.2" cy="107.7" r="2.6"/>
<circle cx="417.3" cy="107.7" r="2.6"/>
<circle cx="417.4" cy="107.7" r="2.6"/>
<circle cx="417.5" cy="107.6" r="2.6"/>
<circle cx="417.6" cy="107.6" r="2.6"/>
<circle cx="417.7" cy="107.6" r="2.6"/>
<circle cx="417.8" cy="107.6" r="2.6"/>
<circle cx="417.9" cy="107.6" r="2.6"/>
<circle cx="418.0" cy="107.6" r="2.6"/>
<circle cx="418.1" cy="107.6" r="2.6"/>
<circle cx="418.2" cy="107.6" r="2.6"/>
<circle cx="418.3" cy="107.6" r="2.6"/>
<circle cx="418.4" cy="107.6" r="2.6"/>
<circle cx="418.5" cy="107.6" r="2.6"/>
<circle cx="418.6" cy="107.6" r="2.6"/>
<circle cx="418.7" cy="107.6" r="2.6"/>
<circle cx="418.8" cy="107.6" r="2.6"/>
<circle cx="418.9" cy="107.6" r="2.6"/>
<circle cx="419.0" cy="107.6" r="2.6"/>
<circle cx="419.1" cy="107.6" r="2.6"/>
<circle cx="419.2" cy="107.5" r="2.6"/>
<circle cx="419.3" cy="107.5" r="2.6"/>
<circle cx="419.4" cy="107.5" r="2.6"/>
<circle cx="419.4" cy="107.5" r="2.6"/>
<circle cx="419.5" cy="107.5" r="2.6"/>
<circle cx="419.6" cy="107.5" r="2.6"/>
<circle cx="419.7" cy="107.5" r="2.6"/>
<circle cx="419.8" cy="107.5" r="2.6"/>
<circle cx="419.9" cy="107.5" r="2.6"/>
<circle cx="420.0" cy="107.5" r="2.6"/>
<circle cx="420.1" cy="107.5" r="2.6"/>
<circle cx="420.2" cy="107.5" r="2.6"/>
<circle cx="420.3" cy="107.5" r="2.6"/>
<circle cx="420.4" cy="107.5" r="2.6"/>
<circle cx="420.5" cy="107.5" r="2.6"/>
<circle cx="420.5" cy="107.5" r="2.6"/>
<circle cx="420.6" cy="107.5" r="2.6"/>
<circle cx="420.7" cy="107.4" r="2.6"/>
<circle cx="420.8" cy="107.4" r="2.6"/>
<circle cx="420.9" cy="107.4" r="2.6"/>
<circle cx="421.0" cy="107.4" r="2.6"/>
<circle cx="421.1" cy="107.4" r="2.6"/>
<circle cx="421.2" cy="107.4" r="2.6"/>
<circle cx="421.2" cy="107.4" r="2.6"/>
<circle cx="421.3" cy="107.4" r="2.6"/>
<circle cx="421.4" cy="107.4" r="2.6"/>
<circle cx="421.5" cy="107.4" r="2.6"/>
<circle cx="421.6" cy="107.4" r="2.6"/>
<circle cx="421.7" cy="107.4" r="2.6"/>
<circle cx="421.8" cy="107.4" r="2.6"/>
<circle cx="421.9" cy="107.4" r="2.6"/>
<circle cx="421.9" cy="107.4" r="2.6"/>
<circle cx="422.0" cy="107.3" r="2.6"/>
<circle cx="422.1" cy="107.3" r="2.6"/>
<circle cx="422.2" cy="107.3" r="2.6"/>
<circle cx="422.3" cy="107.3" r="2.6"/>
<circle cx="422.4" cy="107.3" r="2.6"/>
<circle cx="422.4" cy="107.3" r="2.6"/>
<circle cx="422.5" cy="107.3" r="2.6"/>
<circle cx="422.6" cy="107.3" r="2.6"/>
<circle cx="422.7" cy="107.3" r="2.6"/>
<circle cx="422.8" cy="107.3" r="2.6"/>
<circle cx="422.9" cy="107.3" r="2.6"/>
<circle cx="422.9" cy="107.3" r="2.6"/>
<circle cx="423.0" cy="107.3" r="2.6"/>
<circle cx="423.1" cy="107.3" r="2.6"/>
<circle cx="423.2" cy="107.3" r="2.6"/>
<circle cx="423.3" cy="107.3" r="2.6"/>
<circle cx="423.4" cy="107.2" r="2.6"/>
<circle cx="423.4" cy="107.2" r="2.6"/>
<circle cx="423.5" cy="107.2" r="2.6"/>
<circle cx="423.6" cy="107.2" r="2.6"/>
<circle cx="423.7" cy="107.2" r="2.6"/>
<circle cx="423.8" cy="107.2" r="2.6"/>
<circle cx="423.8" cy="107.2" r="2.6"/>
<circle cx="423.9" cy="107.2" r="2.6"/>
<circle cx="424.0" cy="107.2" r="2.6"/>
<circle cx="424.1" cy="107.2" r="2.6"/>
<circle cx="424.2" cy="107.2" r="2.6"/>
<circle cx="424.2" cy="107.2" r="2.6"/>
<circle cx="424.3" cy="107.2" r="2.6"/>
<circle cx="424.4" cy="107.2" r="2.6"/>
<circle cx="424.5" cy="107.2" r="2.6"/>
<circle cx="424.6" cy="107.2" r="2.6"/>
<circle cx="424.6" cy="107.2" r="2.6"/>
<circle cx="424.7" cy="107.1" r="2.6"/>
<circle cx="424.8" cy="107.1" r="2.6"/>
<circle cx="424.9" cy="107.1" r="2.6"/>
<circle cx="425.0" cy="107.1" r="2.6"/>
<circle cx="425.0" cy="107.1" r="2.6"/>
<circle cx="425.1" cy="107.1" r="2.6"/>
<circle cx="425.2" cy="107.1" r="2.6"/>
<circle cx="425.3" cy="107.1" r="2.6"/>
<circle cx="425.4" cy="107.1" r="2.6"/>
<circle cx="425.4" cy="107.1" r="2.6"/>
<circle cx="425.5" cy="107.1" r="2.6"/>
<circle cx="425.6" cy="107.1" r="2.6"/>
<circle cx="425.7" cy="107.1" r="2.6"/>
<circle cx="425.7" cy="107.1" r="2.6"/>
<circle cx="425.8" cy="107.1" r="2.6"/>
<circle cx="425.9" cy="107.1" r="2.6"/>
<circle cx="426.0" cy="107.1" r="2.6"/>
<circle cx="426.0" cy="107.0" r="2.6"/>
<circle cx="426.1" cy="107.0" r="2.6"/>
<circle cx="426.2" cy="107.0" r="2.6"/>
<circle cx="426.3" cy="107.0" r="2.6"/>
<circle cx="426.3" cy="107.0" r="2.6"/>
<circle cx="426.4" cy="107.0" r="2.6"/>
<circle cx="426.5" cy="107.0" r="2.6"/>
<circle cx="426.6" cy="107.0" r="2.6"/>
<circle cx="426.7" cy="107.0" r="2.6"/>
<circle cx="426.7" cy="107.0" r="2.6"/>
<circle cx="426.8" cy="107.0" r="2.6"/>
<circle cx="426.9" cy="107.0" r="2.6"/>
<circle cx="427.0" cy="107.0" r="2.6"/>
<circle cx="427.0" cy="107.0" r="2.6"/>
<circle cx="427.1" cy="107.0" r="2.6"/>
<circle cx="427.2" cy="107.0" r="2.6"/>
<circle cx="427.3" cy="107.0" r="2.6"/>
<circle cx="427.3" cy="107.0" r="2.6"/>
<circle cx="427.4" cy="106.9" r="2.6"/>
<circle cx="427.5" cy="106.9" r="2.6"/>
<circle cx="427.5" cy="106.9" r="2.6"/>
<circle cx="427.6" cy="106.9" r="2.6"/>
<circle cx="427.7" cy="106.9" r="2.6"/>
<circle cx="427.8" cy="106.9" r="2.6"/>
<circle cx="427.8" cy="106.9" r="2.6"/>
<circle cx="427.9" cy="106.9" r="2.6"/>
<circle cx="428.0" cy="106.9" r="2.6"/>
<circle cx="428.1" cy="106.9" r="2.6"/>
<circle cx="428.1" cy="106.9" r="2.6"/>
<circle cx="428.2" cy="106.9" r="2.6"/>
<circle cx="428.3" cy="106.9" r="2.6"/>
<circle cx="428.4" cy="106.9" r="2.6"/>
<circle cx="428.4" cy="106.9" r="2.6"/>
<circle cx="428.5" cy="106.9" r="2.6"/>
<circle cx="428.6" cy="106.9" r="2.6"/>
<circle cx="428.6" cy="106.9" r="2.6"/>
<circle cx="428.7" cy="106.8" r="2.6"/>
<circle cx="428.8" cy="106.8" r="2.6"/>
<circle cx="428.9" cy="106.8" r="2.6"/>
<circle cx="428.9" cy="106.8" r="2.6"/>
<circle cx="429.0" cy="106.8" r="2.6"/>
<circle cx="429.1" cy="106.8" r="2.6"/>
<circle cx="429.1" cy="106.8" r="2.6"/>
<circle cx="429.2" cy="106.8" r="2.6"/>
<circle cx="429.3" cy="106.8" r="2.6"/>
<circle cx="429.4" cy="106.8" r="2.6"/>
<circle cx="429.4" cy="106.8" r="2.6"/>
<circle cx="429.5" cy="106.8" r="2.6"/>
<circle cx="429.6" cy="106.8" r="2.6"/>
<circle cx="429.6" cy="106.8" r="2.6"/>
<circle cx="429.7" cy="106.8" r="2.6"/>
<circle cx="429.8" cy="106.8" r="2.6"/>
<circle cx="429.9" cy="106.8" r="2.6"/>
<circle cx="429.9" cy="106.8" r="2.6"/>
<circle cx="430.0" cy="106.8" r="2.6"/>
<circle cx="430.1" cy="106.7" r="2.6"/>
<circle cx="430.1" cy="106.7" r="2.6"/>
<circle cx="430.2" cy="106.7" r="2.6"/>
<circle cx="430.3" cy="106.7" r="2.6"/>
<circle cx="430.3" cy="106.7" r="2.6"/>
<circle cx="430.4" cy="106.7" r="2.6"/>
<circle cx="430.5" cy="106.7" r="2.6"/>
<circle cx="430.6" cy="106.7" r="2.6"/>
<circle cx="430.6" cy="106.7" r="2.6"/>
<circle cx="430.7" cy="106.7" r="2.6"/>
<circle cx="430.8" cy="106.7" r="2.6"/>
<circle cx="430.8" cy="106.7" r="2.6"/>
<circle cx="430.9" cy="106.7" r="2.6"/>
<circle cx="431.0" cy="106.7" r="2.6"/>
<circle cx="431.0" cy="106.7" r="2.6"/>
<circle cx="431.1" cy="106.7" r="2.6"/>
<circle cx="431.2" cy="106.7" r="2.6"/>
<circle cx="431.3" cy="106.7" r="2.6"/>
<circle cx="431.3" cy="106.7" r="2.6"/>
<circle cx="431.4" cy="106.6" r="2.6"/>
<circle cx="431.5" cy="106.6" r="2.6"/>
<circle cx="431.5" cy="106.6" r="2.6"/>
<circle cx="431.6" cy="106.6" r="2.6"/>
<circle cx="431.7" cy="106.6" r="2.6"/>
<circle cx="431.7" cy="106.6" r="2.6"/>
<circle cx="431.8" cy="106.6" r="2.6"/>
<circle cx="431.9" cy="106.6" r="2.6"/>
<circle cx="431.9" cy="106.6" r="2.6"/>
<circle cx="432.0" cy="106.6" r="2.6"/>
<circle cx="432.1" cy="106.6" r="2.6"/>
<circle cx="432.1" cy="106.6" r="2.6"/>
<circle cx="432.2" cy="106.6" r="2.6"/>
<circle cx="432.3" cy="106.6" r="2.6"/>
<circle cx="432.3" cy="106.6" r="2.6"/>
<circle cx="432.4" cy="106.6" r="2.6"/>
<circle cx="432.5" cy="106.6" r="2.6"/>
<circle cx="432.6" cy="106.6" r="2.6"/>
<circle cx="432.6" cy="106.6" r="2.6"/>
<circle cx="432.7" cy="106.5" r="2.6"/>
<circle cx="432.8" cy="106.5" r="2.6"/>
<circle cx="432.8" cy="106.5" r="2.6"/>
<circle cx="432.9" cy="106.5" r="2.6"/>
<circle cx="433.0" cy="106.5" r="2.6"/>
<circle cx="433.0" cy="106.5" r="2.6"/>
<circle cx="433.1" cy="106.5" r="2.6"/>
<circle cx="433.2" cy="106.5" r="2.6"/>
<circle cx="433.2" cy="106.5" r="2.6"/>
<circle cx="433.3" cy="106.5" r="2.6"/>
<circle cx="433.4" cy="106.5" r="2.6"/>
<circle cx="433.4" cy="106.5" r="2.6"/>
<circle cx="433.5" cy="106.5" r="2.6"/>
<circle cx="433.6" cy="106.5" r="2.6"/>
<circle cx="433.6" cy="106.5" r="2.6"/>
<circle cx="433.7" cy="106.5" r="2.6"/>
<circle cx="433.8" cy="106.5" r="2.6"/>
<circle cx="433.8" cy="106.5" r="2.6"/>
<circle cx="433.9" cy="106.5" r="2.6"/>
<circle cx="434.0" cy="106.5" r="2.6"/>
<circle cx="434.0" cy="106.4" r="2.6"/>
<circle cx="434.1" cy="106.4" r="2.6"/>
<circle cx="434.2" cy="106.4" r="2.6"/>
<circle cx="434.2" cy="106.4" r="2.6"/>
<circle cx="434.3" cy="106.4" r="2.6"/>
<circle cx="434.4" cy="106.4" r="2.6"/>
<circle cx="434.4" cy="106.4" r="2.6"/>
<circle cx="434.5" cy="106.4" r="2.6"/>
<circle cx="434.6" cy="106.4" r="2.6"/>
<circle cx="434.6" cy="106.4" r="2.6"/>
<circle cx="434.7" cy="106.4" r="2.6"/>
<circle cx="434.8" cy="106.4" r="2.6"/>
<circle cx="434.8" cy="106.4" r="2.6"/>
<circle cx="434.9" cy="106.4" r="2.6"/>
<circle cx="435.0" cy="106.4" r="2.6"/>
<circle cx="435.0" cy="106.4" r="2.6"/>
<circle cx="435.1" cy="106.4" r="2.6"/>
<circle cx="435.2" cy="106.4" r="2.6"/>
<circle cx="435.2" cy="106.4" r="2.6"/>
<circle cx="435.3" cy="106.4" r="2.6"/>
<circle cx="435.4" cy="106.3" r="2.6"/>
<circle cx="435.4" cy="106.3" r="2.6"/>
<circle cx="435.5" cy="106.3" r="2.6"/>
<circle cx="435.5" cy="106.3" r="2.6"/>
<circle cx="435.6" cy="106.3" r="2.6"/>
<circle cx="435.7" cy="106.3" r="2.6"/>
<circle cx="435.7" cy="106.3" r="2.6"/>
<circle cx="435.8" cy="106.3" r="2.6"/>
<circle cx="435.9" cy="106.3" r="2.6"/>
<circle cx="435.9" cy="106.3" r="2.6"/>
<circle cx="436.0" cy="106.3" r="2.6"/>
<circle cx="436.1" cy="106.3" r="2.6"/>
<circle cx="436.1" cy="106.3" r="2.6"/>
<circle cx="436.2" cy="106.3" r="2.6"/>
<circle cx="436.3" cy="106.3" r="2.6"/>
<circle cx="436.3" cy="106.3" r="2.6"/>
<circle cx="436.4" cy="106.3" r="2.6"/>
<circle cx="436.5" cy="106.3" r="2.6"/>
<circle cx="436.5" cy="106.3" r="2.6"/>
<circle cx="436.6" cy="106.3" r="2.6"/>
<circle cx="436.7" cy="106.3" r="2.6"/>
<circle cx="436.7" cy="106.2" r="2.6"/>
<circle cx="436.8" cy="106.2" r="2.6"/>
<circle cx="436.9" cy="106.2" r="2.6"/>
<circle cx="436.9" cy="106.2" r="2.6"/>
<circle cx="437.0" cy="106.2" r="2.6"/>
<circle cx="437.0" cy="106.2" r="2.6"/>
<circle cx="437.1" cy="106.2" r="2.6"/>
<circle cx="437.2" cy="106.2" r="2.6"/>
<circle cx="437.2" cy="106.2" r="2.6"/>
<circle cx="437.3" cy="106.2" r="2.6"/>
<circle cx="437.4" cy="106.2" r="2.6"/>
<circle cx="437.4" cy="106.2" r="2.6"/>
<circle cx="437.5" cy="106.2" r="2.6"/>
<circle cx="437.6" cy="106.2" r="2.6"/>
<circle cx="437.6" cy="106.2" r="2.6"/>
<circle cx="437.7" cy="106.2" r="2.6"/>
<circle cx="437.8" cy="106.2" r="2.6"/>
<circle cx="437.8" cy="106.2" r="2.6"/>
<circle cx="437.9" cy="106.2" r="2.6"/>
<circle cx="438.0" cy="106.2" r="2.6"/>
<circle cx="438.0" cy="106.1" r="2.6"/>
<circle cx="438.1" cy="106.1" r="2.6"/>
<circle cx="438.1" cy="106.1" r="2.6"/>
<circle cx="438.2" cy="106.1" r="2.6"/>
<circle cx="438.3" cy="106.1" r="2.6"/>
<circle cx="438.3" cy="106.1" r="2.6"/>
<circle cx="438.4" cy="106.1" r="2.6"/>
<circle cx="438.5" cy="106.1" r="2.6"/>
<circle cx="438.5" cy="106.1" r="2.6"/>
<circle cx="438.6" cy="106.1" r="2.6"/>
<circle cx="438.7" cy="106.1" r="2.6"/>
<circle cx="438.7" cy="106.1" r="2.6"/>
<circle cx="438.8" cy="106.1" r="2.6"/>
<circle cx="438.9" cy="106.1" r="2.6"/>
<circle cx="438.9" cy="106.1" r="2.6"/>
<circle cx="439.0" cy="106.1" r="2.6"/>
<circle cx="439.1" cy="106.1" r="2.6"/>
<circle cx="439.1" cy="106.1" r="2.6"/>
<circle cx="439.2" cy="106.1" r="2.6"/>
<circle cx="439.2" cy="106.1" r="2.6"/>
<circle cx="439.3" cy="106.1" r="2.6"/>
<circle cx="439.4" cy="106.0" r="2.6"/>
<circle cx="439.4" cy="106.0" r="2.6"/>
<circle cx="439.5" cy="106.0" r="2.6"/>
<circle cx="439.6" cy="106.0" r="2.6"/>
<circle cx="439.6" cy="106.0" r="2.6"/>
<circle cx="439.7" cy="106.0" r="2.6"/>
<circle cx="439.8" cy="106.0" r="2.6"/>
<circle cx="439.8" cy="106.0" r="2.6"/>
<circle cx="439.9" cy="106.0" r="2.6"/>
<circle cx="440.0" cy="106.0" r="2.6"/>
<circle cx="440.0" cy="106.0" r="2.6"/>
<circle cx="440.1" cy="106.0" r="2.6"/>
<circle cx="440.1" cy="106.0" r="2.6"/>
<circle cx="440.2" cy="106.0" r="2.6"/>
<circle cx="440.3" cy="106.0" r="2.6"/>
<circle cx="440.3" cy="106.0" r="2.6"/>
<circle cx="440.4" cy="106.0" r="2.6"/>
<circle cx="440.5" cy="106.0" r="2.6"/>
<circle cx="440.5" cy="105.9" r="2.6"/>
<circle cx="440.6" cy="105.9" r="2.6"/>
<circle cx="440.7" cy="105.9" r="2.6"/>
<circle cx="440.7" cy="105.9" r="2.6"/>
<circle cx="440.8" cy="105.9" r="2.6"/>
<circle cx="440.9" cy="105.9" r="2.6"/>
<circle cx="440.9" cy="105.9" r="2.6"/>
<circle cx="441.0" cy="105.9" r="2.6"/>
<circle cx="441.0" cy="105.9" r="2.6"/>
<circle cx="441.1" cy="105.9" r="2.6"/>
<circle cx="441.2" cy="105.9" r="2.6"/>
<circle cx="441.2" cy="105.9" r="2.6"/>
<circle cx="441.3" cy="105.9" r="2.6"/>
<circle cx="441.4" cy="105.9" r="2.6"/>
<circle cx="441.4" cy="105.9" r="2.6"/>
<circle cx="441.5" cy="105.9" r="2.6"/>
<circle cx="441.6" cy="105.8" r="2.6"/>
<circle cx="441.6" cy="105.8" r="2.6"/>
<circle cx="441.7" cy="105.8" r="2.6"/>
<circle cx="441.8" cy="105.8" r="2.6"/>
<circle cx="441.8" cy="105.8" r="2.6"/>
<circle cx="441.9" cy="105.8" r="2.6"/>
<circle cx="441.9" cy="105.8" r="2.6"/>
<circle cx="442.0" cy="105.8" r="2.6"/>
<circle cx="442.1" cy="105.8" r="2.6"/>
<circle cx="442.1" cy="105.8" r="2.6"/>
<circle cx="442.2" cy="105.8" r="2.6"/>
<circle cx="442.3" cy="105.8" r="2.6"/>
<circle cx="442.3" cy="105.8" r="2.6"/>
<circle cx="442.4" cy="105.8" r="2.6"/>
<circle cx="442.5" cy="105.8" r="2.6"/>
<circle cx="442.5" cy="105.7" r="2.6"/>
<circle cx="442.6" cy="105.7" r="2.6"/>
<circle cx="442.7" cy="105.7" r="2.6"/>
<circle cx="442.7" cy="105.7" r="2.6"/>
<circle cx="442.8" cy="105.7" r="2.6"/>
<circle cx="442.9" cy="105.7" r="2.6"/>
<circle cx="442.9" cy="105.7" r="2.6"/>
<circle cx="443.0" cy="105.7" r="2.6"/>
<circle cx="443.0" cy="105.7" r="2.6"/>
<circle cx="443.1" cy="105.7" r="2.6"/>
<circle cx="443.2" cy="105.7" r="2.6"/>
<circle cx="443.2" cy="105.7" r="2.6"/>
<circle cx="443.3" cy="105.7" r="2.6"/>
<circle cx="443.4" cy="105.7" r="2.6"/>
<circle cx="443.4" cy="105.7" r="2.6"/>
<circle cx="443.5" cy="105.7" r="2.6"/>
<circle cx="443.6" cy="105.6" r="2.6"/>
<circle cx="443.6" cy="105.6" r="2.6"/>
<circle cx="443.7" cy="105.6" r="2.6"/>
<circle cx="443.8" cy="105.6" r="2.6"/>
<circle cx="443.8" cy="105.6" r="2.6"/>
<circle cx="443.9" cy="105.6" r="2.6"/>
<circle cx="444.0" cy="105.6" r="2.6"/>
<circle cx="444.0" cy="105.6" r="2.6"/>
<circle cx="444.1" cy="105.6" r="2.6"/>
<circle cx="444.1" cy="105.6" r="2.6"/>
<circle cx="444.2" cy="105.6" r="2.6"/>
<circle cx="444.3" cy="105.6" r="2.6"/>
<circle cx="444.3" cy="105.6" r="2.6"/>
<circle cx="444.4" cy="105.6" r="2.6"/>
<circle cx="444.5" cy="105.6" r="2.6"/>
<circle cx="444.5" cy="105.5" r="2.6"/>
<circle cx="444.6" cy="105.5" r="2.6"/>
<circle cx="444.7" cy="105.5" r="2.6"/>
<circle cx="444.7" cy="105.5" r="2.6"/>
<circle cx="444.8" cy="105.5" r="2.6"/>
<circle cx="444.9" cy="105.5" r="2.6"/>
<circle cx="444.9" cy="105.5" r="2.6"/>
<circle cx="445.0" cy="105.5" r="2.6"/>
<circle cx="445.1" cy="105.5" r="2.6"/>
<circle cx="445.1" cy="105.5" r="2.6"/>
<circle cx="445.2" cy="105.5" r="2.6"/>
<circle cx="445.3" cy="105.5" r="2.6"/>
<circle cx="445.3" cy="105.5" r="2.6"/>
<circle cx="445.4" cy="105.5" r="2.6"/>
<circle cx="445.5" cy="105.5" r="2.6"/>
<circle cx="445.5" cy="105.4" r="2.6"/>
<circle cx="445.6" cy="105.4" r="2.6"/>
<circle cx="445.6" cy="105.4" r="2.6"/>
<circle cx="445.7" cy="105.4" r="2.6"/>
<circle cx="445.8" cy="105.4" r="2.6"/>
<circle cx="445.8" cy="105.4" r="2.6"/>
<circle cx="445.9" cy="105.4" r="2.6"/>
<circle cx="446.0" cy="105.4" r="2.6"/>
<circle cx="446.0" cy="105.4" r="2.6"/>
<circle cx="446.1" cy="105.4" r="2.6"/>
<circle cx="446.2" cy="105.4" r="2.6"/>
<circle cx="446.2" cy="105.4" r="2.6"/>
<circle cx="446.3" cy="105.4" r="2.6"/>
<circle cx="446.4" cy="105.4" r="2.6"/>
<circle cx="446.4" cy="105.4" r="2.6"/>
<circle cx="446.5" cy="105.3" r="2.6"/>
<circle cx="446.6" cy="105.3" r="2.6"/>
<circle cx="446.6" cy="105.3" r="2.6"/>
<circle cx="446.7" cy="105.3" r="2.6"/>
<circle cx="446.8" cy="105.3" r="2.6"/>
<circle cx="446.8" cy="105.3" r="2.6"/>
<circle cx="446.9" cy="105.3" r="2.6"/>
<circle cx="447.0" cy="105.3" r="2.6"/>
<circle cx="447.0" cy="105.3" r="2.6"/>
<circle cx="447.1" cy="105.3" r="2.6"/>
<circle cx="447.2" cy="105.3" r="2.6"/>
<circle cx="447.2" cy="105.3" r="2.6"/>
<circle cx="447.3" cy="105.3" r="2.6"/>
<circle cx="447.4" cy="105.3" r="2.6"/>
<circle cx="447.4" cy="105.3" r="2.6"/>
<circle cx="447.5" cy="105.2" r="2.6"/>
<circle cx="447.6" cy="105.2" r="2.6"/>
<circle cx="447.6" cy="105.2" r="2.6"/>
<circle cx="447.7" cy="105.2" r="2.6"/>
<circle cx="447.8" cy="105.2" r="2.6"/>
<circle cx="447.8" cy="105.2" r="2.6"/>
<circle cx="447.9" cy="105.2" r="2.6"/>
<circle cx="448.0" cy="105.2" r="2.6"/>
<circle cx="448.0" cy="105.2" r="2.6"/>
<circle cx="448.1" cy="105.2" r="2.6"/>
<circle cx="448.2" cy="105.2" r="2.6"/>
<circle cx="448.2" cy="105.2" r="2.6"/>
<circle cx="448.3" cy="105.2" r="2.6"/>
<circle cx="448.4" cy="105.2" r="2.6"/>
<circle cx="448.4" cy="105.2" r="2.6"/>
<circle cx="448.5" cy="105.1" r="2.6"/>
<circle cx="448.6" cy="105.1" r="2.6"/>
<circle cx="448.7" cy="105.1" r="2.6"/>
<circle cx="448.7" cy="105.1" r="2.6"/>
<circle cx="448.8" cy="105.1" r="2.6"/>
<circle cx="448.9" cy="105.1" r="2.6"/>
<circle cx="448.9" cy="105.1" r="2.6"/>
<circle cx="449.0" cy="105.1" r="2.6"/>
<circle cx="449.1" cy="105.1" r="2.6"/>
<circle cx="449.1" cy="105.1" r="2.6"/>
<circle cx="449.2" cy="105.1" r="2.6"/>
<circle cx="449.3" cy="105.1" r="2.6"/>
<circle cx="449.3" cy="105.1" r="2.6"/>
<circle cx="449.4" cy="105.1" r="2.6"/>
<circle cx="449.5" cy="105.1" r="2.6"/>
<circle cx="449.5" cy="105.0" r="2.6"/>
<circle cx="449.6" cy="105.0" r="2.6"/>
<circle cx="449.7" cy="105.0" r="2.6"/>
<circle cx="449.7" cy="105.0" r="2.6"/>
<circle cx="449.8" cy="105.0" r="2.6"/>
<circle cx="449.9" cy="105.0" r="2.6"/>
<circle cx="450.0" cy="105.0" r="2.6"/>
<circle cx="450.0" cy="105.0" r="2.6"/>
<circle cx="450.1" cy="105.0" r="2.6"/>
<circle cx="450.2" cy="105.0" r="2.6"/>
<circle cx="450.2" cy="105.0" r="2.6"/>
<circle cx="450.3" cy="105.0" r="2.6"/>
<circle cx="450.4" cy="105.0" r="2.6"/>
<circle cx="450.4" cy="105.0" r="2.6"/>
<circle cx="450.5" cy="104.9" r="2.6"/>
<circle cx="450.6" cy="104.9" r="2.6"/>
<circle cx="450.7" cy="104.9" r="2.6"/>
<circle cx="450.7" cy="104.9" r="2.6"/>
<circle cx="450.8" cy="104.9" r="2.6"/>
<circle cx="450.9" cy="104.9" r="2.6"/>
<circle cx="450.9" cy="104.9" r="2.6"/>
<circle cx="451.0" cy="104.9" r="2.6"/>
<circle cx="451.1" cy="104.9" r="2.6"/>
<circle cx="451.1" cy="104.9" r="2.6"/>
<circle cx="451.2" cy="104.9" r="2.6"/>
<circle cx="451.3" cy="104.9" r="2.6"/>
<circle cx="451.4" cy="104.9" r="2.6"/>
<circle cx="451.4" cy="104.9" r="2.6"/>
<circle cx="451.5" cy="104.9" r="2.6"/>
<circle cx="451.6" cy="104.8" r="2.6"/>
<circle cx="451.6" cy="104.8" r="2.6"/>
<circle cx="451.7" cy="104.8" r="2.6"/>
<circle cx="451.8" cy="104.8" r="2.6"/>
<circle cx="451.9" cy="104.8" r="2.6"/>
<circle cx="451.9" cy="104.8" r="2.6"/>
<circle cx="452.0" cy="104.8" r="2.6"/>
<circle cx="452.1" cy="104.8" r="2.6"/>
<circle cx="452.1" cy="104.8" r="2.6"/>
<circle cx="452.2" cy="104.8" r="2.6"/>
<circle cx="452.3" cy="104.8" r="2.6"/>
<circle cx="452.4" cy="104.8" r="2.6"/>
<circle cx="452.4" cy="104.8" r="2.6"/>
<circle cx="452.5" cy="104.7" r="2.6"/>
<circle cx="452.6" cy="104.7" r="2.6"/>
<circle cx="452.6" cy="104.7" r="2.6"/>
<circle cx="452.7" cy="104.7" r="2.6"/>
<circle cx="452.8" cy="104.7" r="2.6"/>
<circle cx="452.9" cy="104.7" r="2.6"/>
<circle cx="452.9" cy="104.7" r="2.6"/>
<circle cx="453.0" cy="104.7" r="2.6"/>
<circle cx="453.1" cy="104.7" r="2.6"/>
<circle cx="453.2" cy="104.7" r="2.6"/>
<circle cx="453.2" cy="104.7" r="2.6"/>
<circle cx="453.3" cy="104.7" r="2.6"/>
<circle cx="453.4" cy="104.7" r="2.6"/>
<circle cx="453.5" cy="104.7" r="2.6"/>
<circle cx="453.5" cy="104.6" r="2.6"/>
<circle cx="453.6" cy="104.6" r="2.6"/>
<circle cx="453.7" cy="104.6" r="2.6"/>
<circle cx="453.7" cy="104.6" r="2.6"/>
<circle cx="453.8" cy="104.6" r="2.6"/>
<circle cx="453.9" cy="104.6" r="2.6"/>
<circle cx="454.0" cy="104.6" r="2.6"/>
<circle cx="454.0" cy="104.6" r="2.6"/>
<circle cx="454.1" cy="104.6" r="2.6"/>
<circle cx="454.2" cy="104.6" r="2.6"/>
<circle cx="454.3" cy="104.6" r="2.6"/>
<circle cx="454.3" cy="104.6" r="2.6"/>
<circle cx="454.4" cy="104.6" r="2.6"/>
<circle cx="454.5" cy="104.6" r="2.6"/>
<circle cx="454.6" cy="104.5" r="2.6"/>
<circle cx="454.7" cy="104.5" r="2.6"/>
<circle cx="454.7" cy="104.5" r="2.6"/>
<circle cx="454.8" cy="104.5" r="2.6"/>
<circle cx="454.9" cy="104.5" r="2.6"/>
<circle cx="455.0" cy="104.5" r="2.6"/>
<circle cx="455.0" cy="104.5" r="2.6"/>
<circle cx="455.1" cy="104.5" r="2.6"/>
<circle cx="455.2" cy="104.5" r="2.6"/>
<circle cx="455.3" cy="104.5" r="2.6"/>
<circle cx="455.3" cy="104.5" r="2.6"/>
<circle cx="455.4" cy="104.5" r="2.6"/>
<circle cx="455.5" cy="104.5" r="2.6"/>
<circle cx="455.6" cy="104.4" r="2.6"/>
<circle cx="455.6" cy="104.4" r="2.6"/>
<circle cx="455.7" cy="104.4" r="2.6"/>
<circle cx="455.8" cy="104.4" r="2.6"/>
<circle cx="455.9" cy="104.4" r="2.6"/>
<circle cx="456.0" cy="104.4" r="2.6"/>
<circle cx="456.0" cy="104.4" r="2.6"/>
<circle cx="456.1" cy="104.4" r="2.6"/>
<circle cx="456.2" cy="104.4" r="2.6"/>
<circle cx="456.3" cy="104.4" r="2.6"/>
<circle cx="456.4" cy="104.4" r="2.6"/>
<circle cx="456.4" cy="104.4" r="2.6"/>
<circle cx="456.5" cy="104.3" r="2.6"/>
<circle cx="456.6" cy="104.3" r="2.6"/>
<circle cx="456.7" cy="104.3" r="2.6"/>
<circle cx="456.8" cy="104.3" r="2.6"/>
<circle cx="456.8" cy="104.3" r="2.6"/>
<circle cx="456.9" cy="104.3" r="2.6"/>
<circle cx="457.0" cy="104.3" r="2.6"/>
<circle cx="457.1" cy="104.3" r="2.6"/>
<circle cx="457.2" cy="104.3" r="2.6"/>
<circle cx="457.2" cy="104.3" r="2.6"/>
<circle cx="457.3" cy="104.3" r="2.6"/>
<circle cx="457.4" cy="104.3" r="2.6"/>
<circle cx="457.5" cy="104.3" r="2.6"/>
<circle cx="457.6" cy="104.2" r="2.6"/>
<circle cx="457.6" cy="104.2" r="2.6"/>
<circle cx="457.7" cy="104.2" r="2.6"/>
<circle cx="457.8" cy="104.2" r="2.6"/>
<circle cx="457.9" cy="104.2" r="2.6"/>
<circle cx="458.0" cy="104.2" r="2.6"/>
<circle cx="458.1" cy="104.2" r="2.6"/>
<circle cx="458.1" cy="104.2" r="2.6"/>
<circle cx="458.2" cy="104.2" r="2.6"/>
<circle cx="458.3" cy="104.2" r="2.6"/>
<circle cx="458.4" cy="104.2" r="2.6"/>
<circle cx="458.5" cy="104.2" r="2.6"/>
<circle cx="458.6" cy="104.1" r="2.6"/>
<circle cx="458.6" cy="104.1" r="2.6"/>
<circle cx="458.7" cy="104.1" r="2.6"/>
<circle cx="458.8" cy="104.1" r="2.6"/>
<circle cx="458.9" cy="104.1" r="2.6"/>
<circle cx="459.0" cy="104.1" r="2.6"/>
<circle cx="459.1" cy="104.1" r="2.6"/>
<circle cx="459.1" cy="104.1" r="2.6"/>
<circle cx="459.2" cy="104.1" r="2.6"/>
<circle cx="459.3" cy="104.1" r="2.6"/>
<circle cx="459.4" cy="104.1" r="2.6"/>
<circle cx="459.5" cy="104.1" r="2.6"/>
<circle cx="459.6" cy="104.0" r="2.6"/>
<circle cx="459.7" cy="104.0" r="2.6"/>
<circle cx="459.8" cy="104.0" r="2.6"/>
<circle cx="459.8" cy="104.0" r="2.6"/>
<circle cx="459.9" cy="104.0" r="2.6"/>
<circle cx="460.0" cy="104.0" r="2.6"/>
<circle cx="460.1" cy="104.0" r="2.6"/>
<circle cx="460.2" cy="104.0" r="2.6"/>
<circle cx="460.3" cy="103.9" r="2.6"/>
<circle cx="460.4" cy="103.9" r="2.6"/>
<circle cx="460.5" cy="103.9" r="2.6"/>
<circle cx="460.5" cy="103.9" r="2.6"/>
<circle cx="460.6" cy="103.9" r="2.6"/>
<circle cx="460.7" cy="103.9" r="2.6"/>
<circle cx="460.8" cy="103.8" r="2.6"/>
<circle cx="460.9" cy="103.8" r="2.6"/>
<circle cx="461.0" cy="103.8" r="2.6"/>
<circle cx="461.1" cy="103.8" r="2.6"/>
<circle cx="461.2" cy="103.8" r="2.6"/>
<circle cx="461.3" cy="103.7" r="2.6"/>
<circle cx="461.4" cy="103.7" r="2.6"/>
<circle cx="461.5" cy="103.7" r="2.6"/>
<circle cx="461.6" cy="103.7" r="2.6"/>
<circle cx="461.6" cy="103.7" r="2.6"/>
<circle cx="461.7" cy="103.7" r="2.6"/>
<circle cx="461.8" cy="103.6" r="2.6"/>
<circle cx="461.9" cy="103.6" r="2.6"/>
<circle cx="462.0" cy="103.6" r="2.6"/>
<circle cx="462.1" cy="103.6" r="2.6"/>
<circle cx="462.2" cy="103.6" r="2.6"/>
<circle cx="462.3" cy="103.5" r="2.6"/>
<circle cx="462.4" cy="103.5" r="2.6"/>
<circle cx="462.5" cy="103.5" r="2.6"/>
<circle cx="462.6" cy="103.5" r="2.6"/>
<circle cx="462.7" cy="103.5" r="2.6"/>
<circle cx="462.8" cy="103.4" r="2.6"/>
<circle cx="462.9" cy="103.4" r="2.6"/>
<circle cx="463.0" cy="103.4" r="2.6"/>
<circle cx="463.1" cy="103.4" r="2.6"/>
<circle cx="463.2" cy="103.4" r="2.6"/>
<circle cx="463.3" cy="103.3" r="2.6"/>
<circle cx="463.4" cy="103.3" r="2.6"/>
<circle cx="463.5" cy="103.3" r="2.6"/>
<circle cx="463.6" cy="103.3" r="2.6"/>
<circle cx="463.7" cy="103.3" r="2.6"/>
<circle cx="463.8" cy="103.2" r="2.6"/>
<circle cx="463.9" cy="103.2" r="2.6"/>
<circle cx="464.0" cy="103.2" r="2.6"/>
<circle cx="464.1" cy="103.2" r="2.6"/>
<circle cx="464.2" cy="103.2" r="2.6"/>
<circle cx="464.3" cy="103.1" r="2.6"/>
<circle cx="464.4" cy="103.1" r="2.6"/>
<circle cx="464.5" cy="103.1" r="2.6"/>
<circle cx="464.6" cy="103.1" r="2.6"/>
<circle cx="464.7" cy="103.1" r="2.6"/>
<circle cx="464.8" cy="103.0" r="2.6"/>
<circle cx="464.9" cy="103.0" r="2.6"/>
<circle cx="465.0" cy="103.0" r="2.6"/>
<circle cx="465.1" cy="103.0" r="2.6"/>
<circle cx="465.2" cy="103.0" r="2.6"/>
<circle cx="465.3" cy="102.9" r="2.6"/>
<circle cx="465.4" cy="102.9" r="2.6"/>
<circle cx="465.5" cy="102.9" r="2.6"/>
<circle cx="465.6" cy="102.9" r="2.6"/>
<circle cx="465.8" cy="102.8" r="2.6"/>
<circle cx="465.9" cy="102.8" r="2.6"/>
<circle cx="466.0" cy="102.8" r="2.6"/>
<circle cx="466.1" cy="102.8" r="2.6"/>
<circle cx="466.2" cy="102.8" r="2.6"/>
<circle cx="466.3" cy="102.7" r="2.6"/>
<circle cx="466.4" cy="102.7" r="2.6"/>
<circle cx="466.5" cy="102.7" r="2.6"/>
<circle cx="466.6" cy="102.7" r="2.6"/>
<circle cx="466.8" cy="102.6" r="2.6"/>
<circle cx="466.9" cy="102.6" r="2.6"/>
<circle cx="467.0" cy="102.6" r="2.6"/>
<circle cx="467.1" cy="102.6" r="2.6"/>
<circle cx="467.2" cy="102.6" r="2.6"/>
<circle cx="467.3" cy="102.5" r="2.6"/>
<circle cx="467.4" cy="102.5" r="2.6"/>
<circle cx="467.6" cy="102.5" r="2.6"/>
<circle cx="467.7" cy="102.5" r="2.6"/>
<circle cx="467.8" cy="102.4" r="2.6"/>
<circle cx="467.9" cy="102.4" r="2.6"/>
<circle cx="468.0" cy="102.4" r="2.6"/>
<circle cx="468.2" cy="102.4" r="2.6"/>
<circle cx="468.3" cy="102.3" r="2.6"/>
<circle cx="468.4" cy="102.3" r="2.6"/>
<circle cx="468.5" cy="102.3" r="2.6"/>
<circle cx="468.6" cy="102.3" r="2.6"/>
<circle cx="468.8" cy="102.2" r="2.6"/>
<circle cx="468.9" cy="102.2" r="2.6"/>
<circle cx="469.0" cy="102.2" r="2.6"/>
<circle cx="469.1" cy="102.2" r="2.6"/>
<circle cx="469.3" cy="102.1" r="2.6"/>
<circle cx="469.4" cy="102.1" r="2.6"/>
<circle cx="469.5" cy="102.1" r="2.6"/>
<circle cx="469.7" cy="102.1" r="2.6"/>
<circle cx="469.8" cy="102.0" r="2.6"/>
<circle cx="469.9" cy="102.0" r="2.6"/>
<circle cx="469.7" cy="101.4" r="2.6"/>
<circle cx="470.5" cy="101.2" r="2.6"/>
<circle cx="470.4" cy="101.7" r="2.6"/>
<circle cx="469.5" cy="101.8" r="2.6"/>
<circle cx="469.6" cy="101.6" r="2.6"/>
<circle cx="469.8" cy="101.0" r="2.6"/>
<circle cx="470.7" cy="102.2" r="2.6"/>
<circle cx="470.2" cy="101.1" r="2.6"/>
<circle cx="471.4" cy="102.2" r="2.6"/>
<circle cx="471.4" cy="101.3" r="2.6"/>
<circle cx="472.5" cy="100.7" r="2.6"/>
<circle cx="472.3" cy="101.0" r="2.6"/>
<circle cx="470.9" cy="100.7" r="2.6"/>
<circle cx="471.4" cy="101.7" r="2.6"/>
<circle cx="471.3" cy="101.3" r="2.6"/>
<circle cx="472.4" cy="100.9" r="2.6"/>
<circle cx="472.4" cy="100.3" r="2.6"/>
<circle cx="471.5" cy="100.5" r="2.6"/>
<circle cx="473.0" cy="100.8" r="2.6"/>
<circle cx="472.3" cy="101.0" r="2.6"/>
<circle cx="472.8" cy="100.5" r="2.6"/>
<circle cx="473.7" cy="101.1" r="2.6"/>
<circle cx="472.6" cy="100.8" r="2.6"/>
<circle cx="473.4" cy="101.2" r="2.6"/>
<circle cx="474.0" cy="100.2" r="2.6"/>
<circle cx="474.7" cy="99.9" r="2.6"/>
<circle cx="473.6" cy="100.8" r="2.6"/>
<circle cx="473.2" cy="100.3" r="2.6"/>
<circle cx="473.1" cy="100.5" r="2.6"/>
<circle cx="474.9" cy="100.3" r="2.6"/>
<circle cx="475.3" cy="99.8" r="2.6"/>
<circle cx="475.1" cy="100.2" r="2.6"/>
<circle cx="475.0" cy="99.9" r="2.6"/>
<circle cx="475.7" cy="100.6" r="2.6"/>
<circle cx="475.1" cy="100.1" r="2.6"/>
<circle cx="474.4" cy="100.1" r="2.6"/>
<circle cx="475.8" cy="100.5" r="2.6"/>
<circle cx="476.4" cy="99.3" r="2.6"/>
<circle cx="475.6" cy="99.8" r="2.6"/>
<circle cx="475.0" cy="99.4" r="2.6"/>
<circle cx="475.5" cy="98.7" r="2.6"/>
<circle cx="475.4" cy="99.6" r="2.6"/>
<circle cx="475.8" cy="98.6" r="2.6"/>
<circle cx="476.6" cy="99.5" r="2.6"/>
<circle cx="476.1" cy="98.6" r="2.6"/>
<circle cx="477.3" cy="99.2" r="2.6"/>
<circle cx="478.1" cy="99.0" r="2.6"/>
<circle cx="477.1" cy="98.1" r="2.6"/>
<circle cx="477.5" cy="98.7" r="2.6"/>
<circle cx="479.0" cy="97.4" r="2.6"/>
<circle cx="477.5" cy="97.3" r="2.6"/>
<circle cx="477.8" cy="97.6" r="2.6"/>
<circle cx="478.8" cy="97.0" r="2.6"/>
<circle cx="477.7" cy="97.1" r="2.6"/>
<circle cx="478.7" cy="97.2" r="2.6"/>
<circle cx="480.2" cy="97.2" r="2.6"/>
<circle cx="479.5" cy="96.9" r="2.6"/>
<circle cx="480.1" cy="95.8" r="2.6"/>
<circle cx="480.8" cy="96.8" r="2.6"/>
<circle cx="481.0" cy="96.6" r="2.6"/>
<circle cx="480.2" cy="95.8" r="2.6"/>
<circle cx="479.8" cy="96.0" r="2.6"/>
<circle cx="479.9" cy="94.9" r="2.6"/>
<circle cx="480.5" cy="94.8" r="2.6"/>
<circle cx="481.0" cy="94.5" r="2.6"/>
<circle cx="480.5" cy="94.4" r="2.6"/>
<circle cx="481.0" cy="94.3" r="2.6"/>
<circle cx="481.1" cy="94.8" r="2.6"/>
<circle cx="482.7" cy="93.2" r="2.6"/>
<circle cx="482.2" cy="93.1" r="2.6"/>
<circle cx="482.7" cy="92.4" r="2.6"/>
<circle cx="484.1" cy="93.4" r="2.6"/>
<circle cx="483.5" cy="92.1" r="2.6"/>
<circle cx="483.0" cy="91.1" r="2.6"/>
<circle cx="483.9" cy="90.9" r="2.6"/>
<circle cx="485.2" cy="90.3" r="2.6"/>
<circle cx="483.8" cy="91.1" r="2.6"/>
<circle cx="485.2" cy="89.3" r="2.6"/>
<circle cx="485.6" cy="88.6" r="2.6"/>
<circle cx="485.9" cy="89.5" r="2.6"/>
<circle cx="487.0" cy="88.5" r="2.6"/>
<circle cx="486.0" cy="87.3" r="2.6"/>
<circle cx="486.2" cy="87.4" r="2.6"/>
<circle cx="487.4" cy="86.7" r="2.6"/>
<circle cx="487.3" cy="85.2" r="2.6"/>
<circle cx="488.8" cy="85.7" r="2.6"/>
<circle cx="489.3" cy="84.7" r="2.6"/>
<circle cx="489.7" cy="83.8" r="2.6"/>
<circle cx="488.8" cy="82.7" r="2.6"/>
<circle cx="489.6" cy="81.1" r="2.6"/>
<circle cx="489.4" cy="80.7" r="2.6"/>
<circle cx="490.4" cy="80.4" r="2.6"/>
<circle cx="492.5" cy="79.1" r="2.6"/>
<circle cx="493.0" cy="79.1" r="2.6"/>
<circle cx="493.6" cy="77.1" r="2.6"/>
<circle cx="492.6" cy="75.9" r="2.6"/>
<circle cx="493.2" cy="74.7" r="2.6"/>
<circle cx="494.8" cy="74.6" r="2.6"/>
<circle cx="496.1" cy="72.7" r="2.6"/>
<circle cx="496.4" cy="71.8" r="2.6"/>
<circle cx="496.1" cy="70.2" r="2.6"/>
<circle cx="498.8" cy="69.4" r="2.6"/>
<circle cx="499.5" cy="67.9" r="2.6"/>
<circle cx="499.3" cy="67.2" r="2.6"/>
<circle cx="500.9" cy="66.0" r="2.6"/>
<circle cx="503.8" cy="64.1" r="2.6"/>
<circle cx="504.3" cy="63.8" r="2.6"/>
<circle cx="506.6" cy="62.5" r="2.6"/>
<circle cx="509.9" cy="61.6" r="2.6"/>
<circle cx="513.6" cy="52.7" r="2.6"/>
<circle cx="521.5" cy="43.4" r="2.6"/>
</g>

<line x1="353.3" y1="113.7" x2="527.6" y2="98.6" stroke="#7F7F7F" stroke-width="1" stroke-dasharray="1 3"/>
<text x="505.1" y="65.3" font-size="10.8" text-anchor="end" stroke="#000">84</text>
<text x="509.3" y="56.0" font-size="10.8" text-anchor="end" stroke="#000">80</text>
<text x="517.7" y="46.7" font-size="10.8" text-anchor="end" stroke="#000">89</text>
<clipPath id="cl3"><rect x="73.6" y="274.5" width="174.9" height="83.5"/></clipPath><g clip-path="url(#cl3)">
<g fill="none" stroke="#000" stroke-width="1.1">
<circle cx="80.1" cy="334.5" r="2.6"/>
<circle cx="110.2" cy="320.7" r="2.6"/>
<circle cx="116.6" cy="337.3" r="2.6"/>
<circle cx="119.9" cy="341.0" r="2.6"/>
<circle cx="124.4" cy="338.9" r="2.6"/>
<circle cx="131.0" cy="336.9" r="2.6"/>
<circle cx="137.1" cy="338.5" r="2.6"/>
<circle cx="141.6" cy="334.8" r="2.6"/>
<circle cx="151.8" cy="331.1" r="2.6"/>
<circle cx="125.6" cy="350.4" r="2.6"/>
<circle cx="127.7" cy="353.2" r="2.6"/>
<circle cx="138.3" cy="353.2" r="2.6"/>
<circle cx="138.7" cy="349.5" r="2.6"/>
<circle cx="131.4" cy="349.5" r="2.6"/>
<circle cx="146.1" cy="350.4" r="2.6"/>
<circle cx="152.6" cy="353.2" r="2.6"/>
<circle cx="128.8" cy="342.5" r="2.6"/>
<circle cx="153.2" cy="317.0" r="2.6"/>
<circle cx="157.5" cy="314.9" r="2.6"/>
<circle cx="149.4" cy="324.2" r="2.6"/>
<circle cx="152.1" cy="331.0" r="2.6"/>
<circle cx="151.2" cy="323.5" r="2.6"/>
<circle cx="183.0" cy="314.5" r="2.6"/>
<circle cx="183.5" cy="321.0" r="2.6"/>
<circle cx="194.2" cy="319.1" r="2.6"/>
<circle cx="212.8" cy="314.6" r="2.6"/>
<circle cx="226.5" cy="313.7" r="2.6"/>
<circle cx="240.9" cy="324.5" r="2.6"/>
<circle cx="239.5" cy="327.3" r="2.6"/>
<circle cx="238.6" cy="329.1" r="2.6"/>
<circle cx="211.8" cy="328.6" r="2.6"/>
<circle cx="216.8" cy="328.2" r="2.6"/>
<circle cx="215.9" cy="331.4" r="2.6"/>
<circle cx="219.1" cy="326.8" r="2.6"/>
<circle cx="222.3" cy="326.8" r="2.6"/>
<circle cx="225.0" cy="327.3" r="2.6"/>
<circle cx="224.1" cy="331.8" r="2.6"/>
<circle cx="227.7" cy="333.2" r="2.6"/>
<circle cx="212.7" cy="333.6" r="2.6"/>
<circle cx="215.5" cy="336.8" r="2.6"/>
<circle cx="206.4" cy="343.2" r="2.6"/>
<circle cx="210.5" cy="345.0" r="2.6"/>
<circle cx="211.8" cy="350.5" r="2.6"/>
<circle cx="213.2" cy="341.8" r="2.6"/>
<circle cx="216.8" cy="343.6" r="2.6"/>
<circle cx="225.0" cy="340.9" r="2.6"/>
<circle cx="230.5" cy="340.0" r="2.6"/>
<circle cx="234.1" cy="342.7" r="2.6"/>
<circle cx="224.1" cy="346.4" r="2.6"/>
<circle cx="224.1" cy="350.9" r="2.6"/>
<circle cx="228.6" cy="350.0" r="2.6"/>
<circle cx="233.6" cy="349.1" r="2.6"/>
<circle cx="235.0" cy="343.6" r="2.6"/>
<circle cx="219.5" cy="345.0" r="2.6"/>
<circle cx="200.0" cy="350.0" r="2.6"/>
<circle cx="195.0" cy="348.0" r="2.6"/>
<circle cx="220.5" cy="348.5" r="2.6"/>
<circle cx="229.0" cy="345.5" r="2.6"/>
<circle cx="171.8" cy="277.8" r="2.6"/>
<circle cx="169.7" cy="283.7" r="2.6"/>
<circle cx="173.2" cy="289.3" r="2.6"/>
<circle cx="165.2" cy="294.9" r="2.6"/>
<circle cx="166.7" cy="304.6" r="2.6"/>
<circle cx="171.0" cy="297.1" r="2.6"/>
<circle cx="172.7" cy="298.1" r="2.6"/>
<circle cx="170.8" cy="294.9" r="2.6"/>
<circle cx="169.7" cy="297.4" r="2.6"/>
<circle cx="167.5" cy="296.0" r="2.6"/>
<circle cx="167.2" cy="303.4" r="2.6"/>
<circle cx="170.3" cy="299.2" r="2.6"/>
<circle cx="172.3" cy="301.3" r="2.6"/>
<circle cx="168.7" cy="303.6" r="2.6"/>
<circle cx="170.7" cy="304.5" r="2.6"/>
<circle cx="168.6" cy="297.2" r="2.6"/>
<circle cx="171.2" cy="302.7" r="2.6"/>
<circle cx="169.3" cy="304.0" r="2.6"/>
<circle cx="172.1" cy="302.8" r="2.6"/>
<circle cx="173.7" cy="301.8" r="2.6"/>
<circle cx="169.8" cy="300.4" r="2.6"/>
<circle cx="168.5" cy="295.4" r="2.6"/>
<circle cx="173.2" cy="300.7" r="2.6"/>
<circle cx="168.0" cy="323.4" r="2.6"/>
<circle cx="169.4" cy="315.6" r="2.6"/>
<circle cx="165.5" cy="320.4" r="2.6"/>
<circle cx="165.8" cy="327.3" r="2.6"/>
<circle cx="165.6" cy="327.1" r="2.6"/>
<circle cx="170.3" cy="326.9" r="2.6"/>
<circle cx="174.7" cy="312.1" r="2.6"/>
<circle cx="171.5" cy="324.7" r="2.6"/>
<circle cx="164.6" cy="323.8" r="2.6"/>
<circle cx="174.2" cy="327.2" r="2.6"/>
<circle cx="165.3" cy="322.0" r="2.6"/>
<circle cx="168.9" cy="327.0" r="2.6"/>
<circle cx="173.6" cy="305.4" r="2.6"/>
<circle cx="176.1" cy="323.9" r="2.6"/>
<circle cx="166.3" cy="327.2" r="2.6"/>
<circle cx="164.4" cy="326.6" r="2.6"/>
<circle cx="170.9" cy="305.5" r="2.6"/>
<circle cx="174.2" cy="312.3" r="2.6"/>
<circle cx="166.3" cy="326.1" r="2.6"/>
<circle cx="167.8" cy="307.5" r="2.6"/>
<circle cx="163.6" cy="327.0" r="2.6"/>
<circle cx="173.3" cy="318.1" r="2.6"/>
<circle cx="170.6" cy="311.4" r="2.6"/>
<circle cx="175.0" cy="327.3" r="2.6"/>
<circle cx="167.7" cy="310.5" r="2.6"/>
<circle cx="168.9" cy="307.5" r="2.6"/>
<circle cx="171.0" cy="310.0" r="2.6"/>
<circle cx="166.5" cy="323.1" r="2.6"/>
<circle cx="166.2" cy="326.8" r="2.6"/>
<circle cx="170.9" cy="317.7" r="2.6"/>
<circle cx="168.1" cy="324.0" r="2.6"/>
<circle cx="167.4" cy="312.3" r="2.6"/>
<circle cx="172.4" cy="310.6" r="2.6"/>
<circle cx="175.0" cy="320.0" r="2.6"/>
<circle cx="174.6" cy="320.4" r="2.6"/>
<circle cx="174.6" cy="317.6" r="2.6"/>
<circle cx="173.6" cy="314.1" r="2.6"/>
<circle cx="167.1" cy="319.7" r="2.6"/>
<circle cx="172.4" cy="326.3" r="2.6"/>
<circle cx="162.9" cy="322.3" r="2.6"/>
<circle cx="168.3" cy="326.5" r="2.6"/>
<circle cx="178.2" cy="325.1" r="2.6"/>
<circle cx="175.1" cy="322.3" r="2.6"/>
<circle cx="163.7" cy="323.1" r="2.6"/>
<circle cx="172.4" cy="329.8" r="2.6"/>
<circle cx="176.3" cy="329.5" r="2.6"/>
<circle cx="167.8" cy="327.9" r="2.6"/>
<circle cx="177.0" cy="322.8" r="2.6"/>
<circle cx="177.8" cy="323.8" r="2.6"/>
<circle cx="165.5" cy="324.2" r="2.6"/>
<circle cx="165.4" cy="330.5" r="2.6"/>
<circle cx="169.3" cy="329.7" r="2.6"/>
<circle cx="161.6" cy="324.2" r="2.6"/>
<circle cx="176.7" cy="323.5" r="2.6"/>
<circle cx="182.2" cy="329.0" r="2.6"/>
<circle cx="164.8" cy="323.7" r="2.6"/>
<circle cx="173.9" cy="323.3" r="2.6"/>
<circle cx="170.6" cy="326.8" r="2.6"/>
<circle cx="164.6" cy="330.7" r="2.6"/>
<circle cx="159.5" cy="330.3" r="2.6"/>
<circle cx="159.1" cy="330.7" r="2.6"/>
<circle cx="168.7" cy="323.4" r="2.6"/>
<circle cx="204.4" cy="336.6" r="2.6"/>
<circle cx="175.1" cy="339.6" r="2.6"/>
<circle cx="167.9" cy="348.0" r="2.6"/>
<circle cx="196.3" cy="336.5" r="2.6"/>
<circle cx="177.0" cy="345.7" r="2.6"/>
<circle cx="180.4" cy="333.6" r="2.6"/>
<circle cx="166.6" cy="341.6" r="2.6"/>
<circle cx="185.9" cy="337.0" r="2.6"/>
<circle cx="203.8" cy="335.9" r="2.6"/>
<circle cx="163.0" cy="334.4" r="2.6"/>
<circle cx="180.1" cy="348.1" r="2.6"/>
<circle cx="187.8" cy="345.0" r="2.6"/>
<circle cx="157.1" cy="351.6" r="2.6"/>
<circle cx="148.7" cy="349.0" r="2.6"/>
<circle cx="164.0" cy="344.8" r="2.6"/>
<circle cx="201.2" cy="341.6" r="2.6"/>
<circle cx="158.4" cy="342.9" r="2.6"/>
<circle cx="194.7" cy="341.4" r="2.6"/>
<circle cx="152.4" cy="351.1" r="2.6"/>
<circle cx="142.6" cy="351.4" r="2.6"/>
<circle cx="183.5" cy="336.1" r="2.6"/>
<circle cx="151.3" cy="346.4" r="2.6"/>
<circle cx="157.1" cy="345.0" r="2.6"/>
<circle cx="141.8" cy="349.4" r="2.6"/>
<circle cx="182.9" cy="336.6" r="2.6"/>
<circle cx="188.6" cy="332.4" r="2.6"/>
<circle cx="157.2" cy="341.8" r="2.6"/>
<circle cx="179.3" cy="332.5" r="2.6"/>
<circle cx="167.9" cy="335.5" r="2.6"/>
<circle cx="170.6" cy="338.5" r="2.6"/>
<circle cx="168.6" cy="338.3" r="2.6"/>
<circle cx="172.6" cy="345.1" r="2.6"/>
<circle cx="168.6" cy="342.4" r="2.6"/>
<circle cx="160.2" cy="339.5" r="2.6"/>
<circle cx="145.3" cy="340.8" r="2.6"/>
<circle cx="174.3" cy="334.4" r="2.6"/>
<circle cx="161.6" cy="343.0" r="2.6"/>
<circle cx="173.0" cy="344.6" r="2.6"/>
<circle cx="157.4" cy="348.6" r="2.6"/>
<circle cx="150.1" cy="350.8" r="2.6"/>
<circle cx="163.1" cy="336.8" r="2.6"/>
<circle cx="162.8" cy="351.4" r="2.6"/>
<circle cx="194.6" cy="331.9" r="2.6"/>
<circle cx="195.3" cy="336.5" r="2.6"/>
<circle cx="162.7" cy="345.4" r="2.6"/>
<circle cx="174.6" cy="342.9" r="2.6"/>
<circle cx="161.8" cy="339.4" r="2.6"/>
<circle cx="202.5" cy="331.6" r="2.6"/>
<circle cx="141.4" cy="344.8" r="2.6"/>
<circle cx="198.5" cy="331.9" r="2.6"/>
<circle cx="198.4" cy="334.8" r="2.6"/>
<circle cx="161.6" cy="334.4" r="2.6"/>
<circle cx="158.8" cy="351.6" r="2.6"/>
<circle cx="168.8" cy="349.4" r="2.6"/>
<circle cx="177.4" cy="347.7" r="2.6"/>
<circle cx="202.2" cy="332.5" r="2.6"/>
<circle cx="202.7" cy="338.1" r="2.6"/>
<circle cx="165.7" cy="342.9" r="2.6"/>
<circle cx="177.3" cy="340.7" r="2.6"/>
<circle cx="195.7" cy="341.0" r="2.6"/>
<circle cx="192.0" cy="333.9" r="2.6"/>
<circle cx="191.0" cy="341.0" r="2.6"/>
<circle cx="174.5" cy="333.9" r="2.6"/>
<circle cx="199.2" cy="334.1" r="2.6"/>
<circle cx="191.9" cy="342.2" r="2.6"/>
<circle cx="190.9" cy="333.2" r="2.6"/>
<circle cx="152.1" cy="351.1" r="2.6"/>
<circle cx="170.9" cy="343.2" r="2.6"/>
<circle cx="148.6" cy="339.7" r="2.6"/>
<circle cx="166.6" cy="347.4" r="2.6"/>
<circle cx="142.0" cy="345.3" r="2.6"/>
<circle cx="157.0" cy="344.5" r="2.6"/>
<circle cx="163.2" cy="332.6" r="2.6"/>
<circle cx="189.0" cy="332.5" r="2.6"/>
<circle cx="195.5" cy="338.0" r="2.6"/>
<circle cx="147.7" cy="343.7" r="2.6"/>
<circle cx="202.9" cy="336.8" r="2.6"/>
<circle cx="182.5" cy="343.2" r="2.6"/>
<circle cx="195.2" cy="335.0" r="2.6"/>
<circle cx="194.1" cy="341.4" r="2.6"/>
<circle cx="191.9" cy="344.7" r="2.6"/>
<circle cx="149.4" cy="339.7" r="2.6"/>
<circle cx="181.7" cy="335.1" r="2.6"/>
<circle cx="162.0" cy="337.3" r="2.6"/>
<circle cx="171.3" cy="349.9" r="2.6"/>
<circle cx="198.6" cy="343.4" r="2.6"/>
<circle cx="158.3" cy="344.2" r="2.6"/>
<circle cx="167.1" cy="333.8" r="2.6"/>
<circle cx="184.5" cy="340.1" r="2.6"/>
<circle cx="172.4" cy="350.0" r="2.6"/>
<circle cx="195.4" cy="333.8" r="2.6"/>
<circle cx="174.6" cy="345.7" r="2.6"/>
<circle cx="154.1" cy="338.1" r="2.6"/>
<circle cx="188.1" cy="340.1" r="2.6"/>
<circle cx="202.8" cy="335.8" r="2.6"/>
<circle cx="163.9" cy="347.2" r="2.6"/>
<circle cx="167.6" cy="334.7" r="2.6"/>
<circle cx="172.7" cy="343.8" r="2.6"/>
<circle cx="159.5" cy="346.8" r="2.6"/>
<circle cx="179.1" cy="340.9" r="2.6"/>
<circle cx="158.6" cy="351.8" r="2.6"/>
<circle cx="166.0" cy="341.0" r="2.6"/>
<circle cx="157.6" cy="350.4" r="2.6"/>
<circle cx="158.7" cy="348.4" r="2.6"/>
<circle cx="178.1" cy="346.7" r="2.6"/>
<circle cx="198.0" cy="340.3" r="2.6"/>
<circle cx="170.6" cy="350.4" r="2.6"/>
<circle cx="166.3" cy="343.1" r="2.6"/>
<circle cx="180.6" cy="335.5" r="2.6"/>
<circle cx="164.0" cy="344.4" r="2.6"/>
<circle cx="168.6" cy="349.6" r="2.6"/>
<circle cx="181.5" cy="335.7" r="2.6"/>
<circle cx="162.8" cy="350.3" r="2.6"/>
<circle cx="171.9" cy="334.5" r="2.6"/>
<circle cx="160.5" cy="339.1" r="2.6"/>
<circle cx="157.5" cy="346.1" r="2.6"/>
<circle cx="146.1" cy="346.1" r="2.6"/>
<circle cx="180.1" cy="342.9" r="2.6"/>
<circle cx="186.9" cy="334.2" r="2.6"/>
<circle cx="158.0" cy="343.3" r="2.6"/>
<circle cx="182.7" cy="341.6" r="2.6"/>
<circle cx="164.0" cy="338.4" r="2.6"/>
<circle cx="184.7" cy="345.2" r="2.6"/>
<circle cx="197.1" cy="332.2" r="2.6"/>
<circle cx="164.9" cy="333.1" r="2.6"/>
<circle cx="158.3" cy="351.9" r="2.6"/>
<circle cx="170.3" cy="350.3" r="2.6"/>
<circle cx="144.8" cy="344.2" r="2.6"/>
<circle cx="176.0" cy="336.3" r="2.6"/>
<circle cx="192.0" cy="334.2" r="2.6"/>
<circle cx="183.3" cy="345.0" r="2.6"/>
<circle cx="146.0" cy="343.6" r="2.6"/>
<circle cx="159.2" cy="350.7" r="2.6"/>
<circle cx="203.1" cy="337.4" r="2.6"/>
<circle cx="202.5" cy="339.4" r="2.6"/>
<circle cx="170.8" cy="343.1" r="2.6"/>
<circle cx="187.3" cy="344.0" r="2.6"/>
<circle cx="205.5" cy="337.7" r="2.6"/>
<circle cx="198.3" cy="333.1" r="2.6"/>
<circle cx="171.7" cy="333.3" r="2.6"/>
<circle cx="152.6" cy="351.2" r="2.6"/>
<circle cx="153.7" cy="350.3" r="2.6"/>
<circle cx="185.4" cy="340.1" r="2.6"/>
<circle cx="174.5" cy="342.8" r="2.6"/>
<circle cx="160.7" cy="338.6" r="2.6"/>
<circle cx="186.9" cy="344.9" r="2.6"/>
<circle cx="175.7" cy="349.3" r="2.6"/>
<circle cx="147.4" cy="348.6" r="2.6"/>
<circle cx="189.4" cy="342.9" r="2.6"/>
<circle cx="192.9" cy="344.7" r="2.6"/>
<circle cx="150.5" cy="343.4" r="2.6"/>
<circle cx="164.4" cy="348.0" r="2.6"/>
<circle cx="152.5" cy="345.7" r="2.6"/>
<circle cx="170.0" cy="342.6" r="2.6"/>
<circle cx="182.0" cy="335.3" r="2.6"/>
<circle cx="176.1" cy="344.5" r="2.6"/>
<circle cx="195.0" cy="334.8" r="2.6"/>
<circle cx="158.5" cy="335.8" r="2.6"/>
<circle cx="207.2" cy="338.5" r="2.6"/>
<circle cx="172.8" cy="335.9" r="2.6"/>
<circle cx="140.0" cy="342.2" r="2.6"/>
<circle cx="186.3" cy="336.8" r="2.6"/>
<circle cx="165.6" cy="348.1" r="2.6"/>
<circle cx="168.7" cy="339.1" r="2.6"/>
<circle cx="160.3" cy="343.1" r="2.6"/>
<circle cx="207.5" cy="336.1" r="2.6"/>
<circle cx="171.7" cy="335.9" r="2.6"/>
<circle cx="175.2" cy="343.5" r="2.6"/>
<circle cx="180.7" cy="345.6" r="2.6"/>
<circle cx="195.2" cy="341.4" r="2.6"/>
<circle cx="174.8" cy="337.7" r="2.6"/>
<circle cx="195.1" cy="337.5" r="2.6"/>
<circle cx="168.8" cy="345.4" r="2.6"/>
<circle cx="178.5" cy="334.9" r="2.6"/>
<circle cx="155.0" cy="351.5" r="2.6"/>
<circle cx="195.7" cy="335.6" r="2.6"/>
<circle cx="201.4" cy="334.3" r="2.6"/>
<circle cx="159.2" cy="341.5" r="2.6"/>
<circle cx="168.2" cy="341.0" r="2.6"/>
<circle cx="154.1" cy="339.1" r="2.6"/>
<circle cx="157.9" cy="342.8" r="2.6"/>
<circle cx="145.1" cy="347.3" r="2.6"/>
<circle cx="193.1" cy="339.1" r="2.6"/>
<circle cx="201.0" cy="337.3" r="2.6"/>
<circle cx="165.3" cy="345.5" r="2.6"/>
<circle cx="202.0" cy="340.9" r="2.6"/>
<circle cx="146.9" cy="351.9" r="2.6"/>
<circle cx="157.5" cy="339.1" r="2.6"/>
<circle cx="183.8" cy="338.4" r="2.6"/>
<circle cx="187.0" cy="337.6" r="2.6"/>
<circle cx="157.4" cy="340.3" r="2.6"/>
<circle cx="188.3" cy="336.1" r="2.6"/>
<circle cx="187.4" cy="339.2" r="2.6"/>
<circle cx="156.3" cy="335.9" r="2.6"/>
<circle cx="187.8" cy="335.0" r="2.6"/>
<circle cx="181.5" cy="345.1" r="2.6"/>
<circle cx="151.7" cy="346.0" r="2.6"/>
<circle cx="188.7" cy="335.7" r="2.6"/>
<circle cx="146.7" cy="347.7" r="2.6"/>
<circle cx="178.4" cy="339.6" r="2.6"/>
<circle cx="206.1" cy="334.9" r="2.6"/>
<circle cx="181.4" cy="338.8" r="2.6"/>
<circle cx="195.5" cy="344.6" r="2.6"/>
<circle cx="167.7" cy="343.3" r="2.6"/>
<circle cx="143.4" cy="348.9" r="2.6"/>
<circle cx="151.8" cy="348.9" r="2.6"/>
<circle cx="158.0" cy="342.3" r="2.6"/>
<circle cx="181.7" cy="333.9" r="2.6"/>
<circle cx="167.0" cy="347.5" r="2.6"/>
<circle cx="186.6" cy="344.1" r="2.6"/>
<circle cx="189.3" cy="340.0" r="2.6"/>
<circle cx="173.8" cy="348.6" r="2.6"/>
<circle cx="169.5" cy="341.2" r="2.6"/>
<circle cx="191.4" cy="336.6" r="2.6"/>
<circle cx="180.4" cy="341.9" r="2.6"/>
<circle cx="199.6" cy="335.4" r="2.6"/>
<circle cx="144.5" cy="342.5" r="2.6"/>
<circle cx="198.0" cy="344.7" r="2.6"/>
<circle cx="198.5" cy="344.2" r="2.6"/>
<circle cx="190.6" cy="332.3" r="2.6"/>
<circle cx="192.0" cy="332.1" r="2.6"/>
<circle cx="142.9" cy="341.7" r="2.6"/>
<circle cx="151.0" cy="352.4" r="2.6"/>
<circle cx="153.9" cy="351.0" r="2.6"/>
<circle cx="195.8" cy="340.2" r="2.6"/>
<circle cx="156.9" cy="336.3" r="2.6"/>
<circle cx="205.2" cy="339.4" r="2.6"/>
<circle cx="187.1" cy="335.0" r="2.6"/>
<circle cx="143.7" cy="341.1" r="2.6"/>
<circle cx="174.5" cy="336.6" r="2.6"/>
<circle cx="171.2" cy="333.1" r="2.6"/>
<circle cx="197.9" cy="340.1" r="2.6"/>
<circle cx="156.2" cy="347.2" r="2.6"/>
<circle cx="184.5" cy="338.9" r="2.6"/>
<circle cx="187.4" cy="338.2" r="2.6"/>
<circle cx="151.8" cy="352.1" r="2.6"/>
<circle cx="175.6" cy="348.3" r="2.6"/>
<circle cx="170.3" cy="340.4" r="2.6"/>
<circle cx="155.0" cy="338.6" r="2.6"/>
<circle cx="148.6" cy="345.6" r="2.6"/>
<circle cx="193.1" cy="335.4" r="2.6"/>
<circle cx="150.1" cy="346.9" r="2.6"/>
<circle cx="161.4" cy="349.5" r="2.6"/>
<circle cx="196.0" cy="335.8" r="2.6"/>
<circle cx="142.7" cy="341.8" r="2.6"/>
<circle cx="145.5" cy="343.5" r="2.6"/>
<circle cx="188.8" cy="339.1" r="2.6"/>
<circle cx="163.7" cy="333.7" r="2.6"/>
<circle cx="189.0" cy="344.0" r="2.6"/>
<circle cx="199.2" cy="331.7" r="2.6"/>
<circle cx="151.8" cy="343.9" r="2.6"/>
<circle cx="161.1" cy="342.4" r="2.6"/>
<circle cx="150.2" cy="349.9" r="2.6"/>
<circle cx="199.0" cy="340.4" r="2.6"/>
<circle cx="170.6" cy="334.0" r="2.6"/>
<circle cx="185.7" cy="339.8" r="2.6"/>
<circle cx="193.5" cy="336.4" r="2.6"/>
<circle cx="175.3" cy="331.7" r="2.6"/>
<circle cx="195.2" cy="336.8" r="2.6"/>
<circle cx="162.6" cy="349.2" r="2.6"/>
<circle cx="190.9" cy="342.5" r="2.6"/>
<circle cx="156.3" cy="342.4" r="2.6"/>
<circle cx="153.7" cy="350.1" r="2.6"/>
<circle cx="158.4" cy="349.6" r="2.6"/>
<circle cx="168.1" cy="338.6" r="2.6"/>
<circle cx="187.2" cy="334.3" r="2.6"/>
<circle cx="160.3" cy="336.6" r="2.6"/>
<circle cx="142.6" cy="345.9" r="2.6"/>
<circle cx="185.0" cy="337.1" r="2.6"/>
<circle cx="184.6" cy="343.8" r="2.6"/>
<circle cx="154.7" cy="340.7" r="2.6"/>
<circle cx="179.8" cy="341.1" r="2.6"/>
<circle cx="158.1" cy="345.0" r="2.6"/>
<circle cx="160.7" cy="343.5" r="2.6"/>
<circle cx="158.1" cy="346.6" r="2.6"/>
<circle cx="151.8" cy="338.2" r="2.6"/>
<circle cx="182.5" cy="334.6" r="2.6"/>
<circle cx="163.7" cy="336.4" r="2.6"/>
<circle cx="163.3" cy="343.2" r="2.6"/>
<circle cx="160.8" cy="346.8" r="2.6"/>
<circle cx="166.1" cy="334.8" r="2.6"/>
<circle cx="159.4" cy="338.7" r="2.6"/>
<circle cx="178.0" cy="334.7" r="2.6"/>
<circle cx="170.3" cy="338.3" r="2.6"/>
<circle cx="159.1" cy="348.7" r="2.6"/>
<circle cx="152.4" cy="346.2" r="2.6"/>
<circle cx="181.1" cy="333.0" r="2.6"/>
<circle cx="160.3" cy="347.2" r="2.6"/>
<circle cx="151.6" cy="339.6" r="2.6"/>
<circle cx="158.2" cy="348.9" r="2.6"/>
<circle cx="178.4" cy="346.8" r="2.6"/>
<circle cx="159.7" cy="335.0" r="2.6"/>
<circle cx="181.6" cy="337.1" r="2.6"/>
<circle cx="157.6" cy="334.5" r="2.6"/>
<circle cx="178.8" cy="341.0" r="2.6"/>
<circle cx="166.0" cy="333.7" r="2.6"/>
<circle cx="150.1" cy="341.6" r="2.6"/>
<circle cx="169.7" cy="342.7" r="2.6"/>
<circle cx="182.1" cy="333.8" r="2.6"/>
<circle cx="171.5" cy="344.8" r="2.6"/>
<circle cx="157.9" cy="343.3" r="2.6"/>
<circle cx="159.6" cy="335.4" r="2.6"/>
<circle cx="159.4" cy="338.3" r="2.6"/>
<circle cx="164.3" cy="348.5" r="2.6"/>
<circle cx="176.5" cy="347.6" r="2.6"/>
<circle cx="155.5" cy="347.3" r="2.6"/>
<circle cx="163.3" cy="349.4" r="2.6"/>
<circle cx="171.7" cy="345.3" r="2.6"/>
<circle cx="170.5" cy="333.4" r="2.6"/>
<circle cx="160.4" cy="336.2" r="2.6"/>
<circle cx="159.3" cy="346.7" r="2.6"/>
<circle cx="163.9" cy="335.4" r="2.6"/>
<circle cx="177.9" cy="338.1" r="2.6"/>
<circle cx="153.8" cy="339.8" r="2.6"/>
<circle cx="162.4" cy="342.7" r="2.6"/>
<circle cx="172.9" cy="347.1" r="2.6"/>
<circle cx="170.5" cy="341.6" r="2.6"/>
<circle cx="160.6" cy="345.1" r="2.6"/>
<circle cx="175.4" cy="349.2" r="2.6"/>
<circle cx="173.0" cy="348.7" r="2.6"/>
<circle cx="150.8" cy="338.7" r="2.6"/>
<circle cx="161.0" cy="344.9" r="2.6"/>
<circle cx="179.5" cy="344.1" r="2.6"/>
<circle cx="159.2" cy="343.7" r="2.6"/>
<circle cx="156.9" cy="342.6" r="2.6"/>
<circle cx="151.2" cy="347.6" r="2.6"/>
<circle cx="183.6" cy="336.4" r="2.6"/>
<circle cx="173.2" cy="334.1" r="2.6"/>
<circle cx="153.8" cy="343.8" r="2.6"/>
<circle cx="152.3" cy="340.4" r="2.6"/>
<circle cx="166.0" cy="347.2" r="2.6"/>
<circle cx="181.8" cy="341.4" r="2.6"/>
<circle cx="151.2" cy="338.9" r="2.6"/>
<circle cx="155.4" cy="342.2" r="2.6"/>
<circle cx="161.4" cy="338.7" r="2.6"/>
<circle cx="167.9" cy="340.2" r="2.6"/>
<circle cx="153.7" cy="348.7" r="2.6"/>
<circle cx="162.5" cy="336.2" r="2.6"/>
<circle cx="164.8" cy="347.1" r="2.6"/>
<circle cx="162.2" cy="333.9" r="2.6"/>
<circle cx="171.6" cy="347.5" r="2.6"/>
<circle cx="171.9" cy="340.9" r="2.6"/>
<circle cx="171.8" cy="335.7" r="2.6"/>
<circle cx="182.9" cy="339.4" r="2.6"/>
<circle cx="167.8" cy="335.7" r="2.6"/>
<circle cx="169.2" cy="341.7" r="2.6"/>
<circle cx="154.9" cy="348.7" r="2.6"/>
<circle cx="157.8" cy="342.1" r="2.6"/>
<circle cx="181.0" cy="339.9" r="2.6"/>
<circle cx="162.1" cy="340.9" r="2.6"/>
<circle cx="162.2" cy="339.4" r="2.6"/>
<circle cx="165.7" cy="343.7" r="2.6"/>
<circle cx="172.0" cy="334.7" r="2.6"/>
<circle cx="155.9" cy="338.5" r="2.6"/>
<circle cx="161.8" cy="340.7" r="2.6"/>
<circle cx="179.1" cy="349.2" r="2.6"/>
<circle cx="161.6" cy="339.8" r="2.6"/>
<circle cx="176.1" cy="334.4" r="2.6"/>
<circle cx="182.6" cy="343.1" r="2.6"/>
<circle cx="161.9" cy="348.0" r="2.6"/>
<circle cx="127.7" cy="345.7" r="2.6"/>
<circle cx="134.5" cy="342.8" r="2.6"/>
<circle cx="127.6" cy="347.8" r="2.6"/>
<circle cx="134.3" cy="341.8" r="2.6"/>
<circle cx="133.5" cy="346.9" r="2.6"/>
<circle cx="135.5" cy="348.2" r="2.6"/>
<circle cx="139.3" cy="346.8" r="2.6"/>
<circle cx="139.6" cy="344.9" r="2.6"/>
<circle cx="129.0" cy="341.5" r="2.6"/>
<circle cx="127.0" cy="345.4" r="2.6"/>
<circle cx="138.6" cy="343.5" r="2.6"/>
<circle cx="139.3" cy="348.8" r="2.6"/>
<circle cx="128.7" cy="345.0" r="2.6"/>
<circle cx="133.9" cy="346.5" r="2.6"/>
<circle cx="135.3" cy="340.7" r="2.6"/>
<circle cx="135.5" cy="341.6" r="2.6"/>
<circle cx="132.4" cy="345.3" r="2.6"/>
<circle cx="126.6" cy="346.4" r="2.6"/>
<circle cx="133.5" cy="342.4" r="2.6"/>
<circle cx="136.4" cy="341.4" r="2.6"/>
<circle cx="138.9" cy="340.8" r="2.6"/>
<circle cx="137.1" cy="345.4" r="2.6"/>
<circle cx="127.2" cy="342.7" r="2.6"/>
<circle cx="139.5" cy="346.7" r="2.6"/>
<circle cx="133.9" cy="347.1" r="2.6"/>
<circle cx="127.4" cy="345.3" r="2.6"/>
<circle cx="138.3" cy="343.0" r="2.6"/>
<circle cx="138.7" cy="343.1" r="2.6"/>
<circle cx="139.0" cy="340.1" r="2.6"/>
<circle cx="133.2" cy="348.5" r="2.6"/>
<circle cx="135.8" cy="346.1" r="2.6"/>
<circle cx="133.4" cy="349.1" r="2.6"/>
<circle cx="138.8" cy="346.9" r="2.6"/>
<circle cx="132.2" cy="346.7" r="2.6"/>
<circle cx="127.6" cy="343.5" r="2.6"/>
<circle cx="188.6" cy="348.2" r="2.6"/>
<circle cx="183.8" cy="350.1" r="2.6"/>
<circle cx="184.2" cy="349.8" r="2.6"/>
<circle cx="187.6" cy="349.4" r="2.6"/>
<circle cx="195.6" cy="344.3" r="2.6"/>
<circle cx="198.9" cy="344.5" r="2.6"/>
<circle cx="198.0" cy="344.6" r="2.6"/>
<circle cx="197.3" cy="348.6" r="2.6"/>
<circle cx="192.0" cy="349.3" r="2.6"/>
<circle cx="199.5" cy="347.3" r="2.6"/>
<circle cx="198.5" cy="344.5" r="2.6"/>
<circle cx="185.3" cy="348.8" r="2.6"/>
<circle cx="192.2" cy="350.6" r="2.6"/>
<circle cx="195.1" cy="346.3" r="2.6"/>
<circle cx="225.9" cy="336.7" r="2.6"/>
<circle cx="227.4" cy="340.9" r="2.6"/>
<circle cx="218.9" cy="342.9" r="2.6"/>
<circle cx="213.8" cy="337.6" r="2.6"/>
<circle cx="213.8" cy="345.3" r="2.6"/>
<circle cx="228.9" cy="346.7" r="2.6"/>
<circle cx="233.5" cy="344.5" r="2.6"/>
<circle cx="217.4" cy="335.7" r="2.6"/>
<circle cx="214.9" cy="338.5" r="2.6"/>
<circle cx="222.3" cy="347.0" r="2.6"/>
<circle cx="216.9" cy="337.7" r="2.6"/>
<circle cx="208.4" cy="331.5" r="2.6"/>
<circle cx="229.9" cy="345.4" r="2.6"/>
<circle cx="224.7" cy="335.1" r="2.6"/>
<circle cx="230.1" cy="350.0" r="2.6"/>
<circle cx="216.1" cy="336.5" r="2.6"/>
<circle cx="233.6" cy="345.1" r="2.6"/>
<circle cx="219.6" cy="336.5" r="2.6"/>
<circle cx="210.1" cy="344.7" r="2.6"/>
<circle cx="215.1" cy="343.2" r="2.6"/>
<circle cx="223.4" cy="341.5" r="2.6"/>
<circle cx="212.6" cy="342.6" r="2.6"/>
</g>
<path d="M80.4 342.4 L100.0 343.8 L115.0 345.9 L130.0 345.6 L140.0 344.6 L150.0 343.4 L160.0 341.8 L170.0 339.0 L185.0 337.3 L195.0 337.8 L205.0 339.6 L220.0 342.9 L241.3 346.7" fill="none" stroke="#DF536B" stroke-width="1.1"/>
<text x="166.6" y="280.8" font-size="10.8" text-anchor="end" stroke="#000">89</text>
<text x="165.7" y="287.6" font-size="10.8" text-anchor="end" stroke="#000">80</text>
<text x="167.2" y="293.8" font-size="10.8" text-anchor="end" stroke="#000">84</text>
</g>
<line x1="362" y1="331.6" x2="411" y2="331.6" stroke="#9E9E9E" stroke-width="1" stroke-dasharray="4 4"/>
<text transform="translate(418.50 337.60) scale(1.0042 1)" x="-0.76" y="0" font-size="14.6" fill="#9E9E9E" stroke="#9E9E9E" >Cook's distance</text>
<g fill="none" stroke="#000" stroke-width="1.1">
<circle cx="362.3" cy="283.3" r="2.6"/>
<circle cx="362.1" cy="291.7" r="2.6"/>
<circle cx="375.4" cy="324.9" r="2.6"/>
<circle cx="383.4" cy="324.5" r="2.6"/>
<circle cx="385.7" cy="325.4" r="2.6"/>
<circle cx="389.0" cy="325.4" r="2.6"/>
<circle cx="372.6" cy="329.3" r="2.6"/>
<circle cx="367.9" cy="327.5" r="2.6"/>
<circle cx="406.3" cy="329.1" r="2.6"/>
<circle cx="403.9" cy="335.2" r="2.6"/>
<circle cx="409.0" cy="337.5" r="2.6"/>
<circle cx="413.2" cy="341.7" r="2.6"/>
<circle cx="417.9" cy="339.4" r="2.6"/>
<circle cx="416.5" cy="342.2" r="2.6"/>
<circle cx="399.3" cy="343.1" r="2.6"/>
<circle cx="400.2" cy="346.8" r="2.6"/>
<circle cx="392.6" cy="349.4" r="2.6"/>
<circle cx="423.6" cy="327.1" r="2.6"/>
<circle cx="444.4" cy="340.2" r="2.6"/>
<circle cx="455.3" cy="340.7" r="2.6"/>
<circle cx="437.8" cy="348.9" r="2.6"/>
<circle cx="467.3" cy="336.9" r="2.6"/>
<circle cx="418.2" cy="339.1" r="2.6"/>
<circle cx="412.7" cy="341.3" r="2.6"/>
<circle cx="417.1" cy="342.4" r="2.6"/>
<circle cx="479.2" cy="341.3" r="2.6"/>
<circle cx="496.9" cy="336.5" r="2.6"/>
<circle cx="521.7" cy="341.3" r="2.6"/>
<circle cx="399.9" cy="343.3" r="2.6"/>
<circle cx="403.5" cy="335.6" r="2.6"/>
<circle cx="362.0" cy="310.5" r="2.6"/>
<circle cx="362.8" cy="322.9" r="2.6"/>
<circle cx="362.7" cy="318.6" r="2.6"/>
<circle cx="363.0" cy="334.1" r="2.6"/>
<circle cx="362.4" cy="337.7" r="2.6"/>
<circle cx="362.0" cy="308.9" r="2.6"/>
<circle cx="362.9" cy="338.1" r="2.6"/>
<circle cx="362.8" cy="329.2" r="2.6"/>
<circle cx="361.6" cy="310.4" r="2.6"/>
<circle cx="362.7" cy="300.7" r="2.6"/>
<circle cx="362.0" cy="309.5" r="2.6"/>
<circle cx="363.0" cy="309.1" r="2.6"/>
<circle cx="361.7" cy="313.4" r="2.6"/>
<circle cx="363.0" cy="324.1" r="2.6"/>
<circle cx="362.9" cy="331.1" r="2.6"/>
<circle cx="362.9" cy="339.8" r="2.6"/>
<circle cx="362.5" cy="302.9" r="2.6"/>
<circle cx="361.7" cy="336.0" r="2.6"/>
<circle cx="362.4" cy="339.9" r="2.6"/>
<circle cx="362.5" cy="339.8" r="2.6"/>
<circle cx="362.1" cy="335.7" r="2.6"/>
<circle cx="362.9" cy="336.0" r="2.6"/>
<circle cx="362.2" cy="311.7" r="2.6"/>
<circle cx="362.6" cy="327.2" r="2.6"/>
<circle cx="361.9" cy="329.5" r="2.6"/>
<circle cx="362.9" cy="333.7" r="2.6"/>
<circle cx="361.8" cy="321.6" r="2.6"/>
<circle cx="362.6" cy="324.7" r="2.6"/>
<circle cx="361.9" cy="306.5" r="2.6"/>
<circle cx="362.5" cy="336.9" r="2.6"/>
<circle cx="361.6" cy="331.9" r="2.6"/>
<circle cx="361.9" cy="316.1" r="2.6"/>
<circle cx="363.0" cy="330.0" r="2.6"/>
<circle cx="361.7" cy="316.1" r="2.6"/>
<circle cx="362.2" cy="327.0" r="2.6"/>
<circle cx="362.7" cy="332.1" r="2.6"/>
<circle cx="362.0" cy="327.4" r="2.6"/>
<circle cx="362.4" cy="314.8" r="2.6"/>
<circle cx="362.2" cy="321.6" r="2.6"/>
<circle cx="362.9" cy="334.8" r="2.6"/>
<circle cx="362.0" cy="319.3" r="2.6"/>
<circle cx="362.7" cy="316.3" r="2.6"/>
<circle cx="361.5" cy="330.5" r="2.6"/>
<circle cx="361.6" cy="330.6" r="2.6"/>
<circle cx="361.7" cy="302.9" r="2.6"/>
<circle cx="362.0" cy="314.1" r="2.6"/>
<circle cx="361.9" cy="330.3" r="2.6"/>
<circle cx="362.8" cy="308.7" r="2.6"/>
<circle cx="362.8" cy="327.3" r="2.6"/>
<circle cx="362.4" cy="329.2" r="2.6"/>
<circle cx="362.8" cy="323.2" r="2.6"/>
<circle cx="361.6" cy="323.8" r="2.6"/>
<circle cx="361.6" cy="339.7" r="2.6"/>
<circle cx="362.3" cy="324.0" r="2.6"/>
<circle cx="362.5" cy="319.0" r="2.6"/>
<circle cx="362.4" cy="314.5" r="2.6"/>
<circle cx="361.9" cy="314.4" r="2.6"/>
<circle cx="362.6" cy="314.9" r="2.6"/>
<circle cx="362.4" cy="335.6" r="2.6"/>
<circle cx="362.2" cy="306.4" r="2.6"/>
<circle cx="361.9" cy="322.4" r="2.6"/>
<circle cx="362.9" cy="339.0" r="2.6"/>
<circle cx="361.6" cy="330.7" r="2.6"/>
<circle cx="362.7" cy="326.3" r="2.6"/>
<circle cx="362.9" cy="304.6" r="2.6"/>
<circle cx="362.6" cy="322.9" r="2.6"/>
<circle cx="361.6" cy="334.0" r="2.6"/>
<circle cx="361.7" cy="322.2" r="2.6"/>
<circle cx="361.9" cy="319.0" r="2.6"/>
<circle cx="363.0" cy="311.1" r="2.6"/>
<circle cx="377.4" cy="339.3" r="2.6"/>
<circle cx="387.5" cy="343.9" r="2.6"/>
<circle cx="386.6" cy="338.9" r="2.6"/>
<circle cx="386.5" cy="342.4" r="2.6"/>
<circle cx="367.8" cy="345.8" r="2.6"/>
<circle cx="385.4" cy="342.5" r="2.6"/>
<circle cx="382.4" cy="346.1" r="2.6"/>
<circle cx="390.4" cy="337.7" r="2.6"/>
<circle cx="378.2" cy="336.9" r="2.6"/>
<circle cx="376.5" cy="338.9" r="2.6"/>
<circle cx="370.3" cy="344.9" r="2.6"/>
<circle cx="390.8" cy="341.4" r="2.6"/>
<circle cx="386.5" cy="341.7" r="2.6"/>
<circle cx="385.4" cy="337.1" r="2.6"/>
<circle cx="370.4" cy="337.9" r="2.6"/>
<circle cx="377.7" cy="340.4" r="2.6"/>
<circle cx="390.3" cy="344.1" r="2.6"/>
<circle cx="372.4" cy="338.7" r="2.6"/>
<circle cx="383.8" cy="343.2" r="2.6"/>
<circle cx="363.6" cy="339.3" r="2.6"/>
<circle cx="362.2" cy="342.7" r="2.6"/>
<circle cx="379.8" cy="345.8" r="2.6"/>
<circle cx="380.1" cy="341.5" r="2.6"/>
<circle cx="382.4" cy="344.9" r="2.6"/>
<circle cx="373.8" cy="341.7" r="2.6"/>
<circle cx="363.7" cy="341.3" r="2.6"/>
<circle cx="367.1" cy="344.2" r="2.6"/>
<circle cx="389.5" cy="342.1" r="2.6"/>
<circle cx="382.5" cy="342.5" r="2.6"/>
<circle cx="362.2" cy="334.3" r="2.6"/>
<circle cx="364.0" cy="342.9" r="2.6"/>
<circle cx="389.0" cy="337.6" r="2.6"/>
<circle cx="368.3" cy="340.1" r="2.6"/>
<circle cx="386.1" cy="342.5" r="2.6"/>
<circle cx="362.6" cy="335.7" r="2.6"/>
<circle cx="365.3" cy="346.2" r="2.6"/>
<circle cx="362.0" cy="334.9" r="2.6"/>
<circle cx="363.4" cy="346.0" r="2.6"/>
<circle cx="376.8" cy="343.4" r="2.6"/>
<circle cx="372.4" cy="341.0" r="2.6"/>
<circle cx="387.2" cy="337.3" r="2.6"/>
<circle cx="380.0" cy="337.5" r="2.6"/>
<circle cx="373.8" cy="343.0" r="2.6"/>
<circle cx="381.6" cy="338.1" r="2.6"/>
<circle cx="367.9" cy="345.0" r="2.6"/>
<circle cx="372.5" cy="338.2" r="2.6"/>
<circle cx="373.4" cy="336.4" r="2.6"/>
<circle cx="374.3" cy="337.3" r="2.6"/>
<circle cx="375.5" cy="345.7" r="2.6"/>
<circle cx="365.3" cy="336.5" r="2.6"/>
<circle cx="367.1" cy="344.8" r="2.6"/>
<circle cx="366.9" cy="340.3" r="2.6"/>
<circle cx="387.8" cy="345.6" r="2.6"/>
<circle cx="375.0" cy="346.4" r="2.6"/>
<circle cx="371.0" cy="336.4" r="2.6"/>
<circle cx="384.4" cy="338.6" r="2.6"/>
<circle cx="391.9" cy="338.2" r="2.6"/>
<circle cx="386.2" cy="343.1" r="2.6"/>
<circle cx="390.5" cy="345.0" r="2.6"/>
<circle cx="383.0" cy="340.8" r="2.6"/>
<circle cx="384.8" cy="340.1" r="2.6"/>
<circle cx="383.4" cy="345.6" r="2.6"/>
<circle cx="376.8" cy="343.3" r="2.6"/>
<circle cx="374.2" cy="344.8" r="2.6"/>
<circle cx="375.0" cy="340.9" r="2.6"/>
<circle cx="373.1" cy="343.1" r="2.6"/>
<circle cx="377.2" cy="346.2" r="2.6"/>
<circle cx="391.4" cy="340.2" r="2.6"/>
<circle cx="378.7" cy="344.2" r="2.6"/>
<circle cx="373.6" cy="338.9" r="2.6"/>
<circle cx="391.8" cy="337.7" r="2.6"/>
<circle cx="390.5" cy="340.5" r="2.6"/>
<circle cx="362.2" cy="338.3" r="2.6"/>
<circle cx="378.4" cy="340.6" r="2.6"/>
<circle cx="377.1" cy="342.9" r="2.6"/>
<circle cx="367.7" cy="343.3" r="2.6"/>
<circle cx="368.9" cy="335.9" r="2.6"/>
<circle cx="372.1" cy="339.7" r="2.6"/>
<circle cx="379.1" cy="337.4" r="2.6"/>
<circle cx="365.5" cy="336.7" r="2.6"/>
<circle cx="381.9" cy="342.9" r="2.6"/>
<circle cx="380.9" cy="343.3" r="2.6"/>
<circle cx="366.8" cy="338.7" r="2.6"/>
<circle cx="392.0" cy="342.7" r="2.6"/>
<circle cx="370.5" cy="337.2" r="2.6"/>
<circle cx="382.4" cy="340.5" r="2.6"/>
<circle cx="374.3" cy="337.0" r="2.6"/>
<circle cx="380.2" cy="337.9" r="2.6"/>
<circle cx="379.6" cy="337.6" r="2.6"/>
<circle cx="366.3" cy="341.0" r="2.6"/>
<circle cx="367.3" cy="343.7" r="2.6"/>
<circle cx="376.2" cy="339.8" r="2.6"/>
<circle cx="378.0" cy="346.1" r="2.6"/>
<circle cx="366.5" cy="336.1" r="2.6"/>
<circle cx="366.8" cy="338.3" r="2.6"/>
<circle cx="362.6" cy="337.7" r="2.6"/>
<circle cx="389.0" cy="339.0" r="2.6"/>
<circle cx="373.9" cy="346.2" r="2.6"/>
<circle cx="379.9" cy="340.9" r="2.6"/>
<circle cx="368.6" cy="340.3" r="2.6"/>
<circle cx="365.9" cy="343.5" r="2.6"/>
<circle cx="381.8" cy="338.0" r="2.6"/>
<circle cx="372.5" cy="345.6" r="2.6"/>
<circle cx="375.8" cy="337.7" r="2.6"/>
<circle cx="384.1" cy="340.9" r="2.6"/>
<circle cx="388.8" cy="339.1" r="2.6"/>
<circle cx="388.1" cy="344.5" r="2.6"/>
<circle cx="378.0" cy="342.4" r="2.6"/>
<circle cx="374.0" cy="339.6" r="2.6"/>
<circle cx="385.8" cy="338.4" r="2.6"/>
<circle cx="378.3" cy="343.7" r="2.6"/>
<circle cx="383.9" cy="342.1" r="2.6"/>
<circle cx="365.5" cy="345.2" r="2.6"/>
<circle cx="363.3" cy="337.0" r="2.6"/>
<circle cx="373.8" cy="336.4" r="2.6"/>
<circle cx="375.1" cy="340.1" r="2.6"/>
<circle cx="370.3" cy="336.2" r="2.6"/>
<circle cx="379.5" cy="339.5" r="2.6"/>
<circle cx="367.4" cy="335.7" r="2.6"/>
<circle cx="368.2" cy="342.9" r="2.6"/>
<circle cx="369.1" cy="337.5" r="2.6"/>
<circle cx="390.9" cy="339.2" r="2.6"/>
<circle cx="371.6" cy="341.4" r="2.6"/>
<circle cx="391.9" cy="341.2" r="2.6"/>
<circle cx="377.5" cy="343.1" r="2.6"/>
<circle cx="375.1" cy="344.0" r="2.6"/>
<circle cx="371.5" cy="345.1" r="2.6"/>
<circle cx="388.5" cy="340.9" r="2.6"/>
<circle cx="370.9" cy="342.7" r="2.6"/>
<circle cx="388.7" cy="338.0" r="2.6"/>
<circle cx="365.8" cy="342.2" r="2.6"/>
<circle cx="379.4" cy="339.6" r="2.6"/>
<circle cx="385.0" cy="340.9" r="2.6"/>
<circle cx="376.7" cy="336.6" r="2.6"/>
<circle cx="373.3" cy="337.6" r="2.6"/>
<circle cx="385.6" cy="343.7" r="2.6"/>
<circle cx="379.1" cy="345.0" r="2.6"/>
<circle cx="367.9" cy="341.5" r="2.6"/>
<circle cx="380.3" cy="340.5" r="2.6"/>
<circle cx="371.7" cy="343.6" r="2.6"/>
<circle cx="374.2" cy="333.2" r="2.6"/>
<circle cx="376.3" cy="333.4" r="2.6"/>
<circle cx="384.8" cy="333.3" r="2.6"/>
<circle cx="376.6" cy="335.1" r="2.6"/>
<circle cx="366.5" cy="328.0" r="2.6"/>
<circle cx="369.9" cy="329.1" r="2.6"/>
<circle cx="370.5" cy="333.3" r="2.6"/>
<circle cx="381.6" cy="333.0" r="2.6"/>
<circle cx="379.0" cy="335.0" r="2.6"/>
<circle cx="363.5" cy="325.8" r="2.6"/>
<circle cx="371.8" cy="335.3" r="2.6"/>
<circle cx="387.3" cy="336.7" r="2.6"/>
<circle cx="364.4" cy="329.5" r="2.6"/>
<circle cx="385.8" cy="335.5" r="2.6"/>
<circle cx="381.1" cy="335.3" r="2.6"/>
<circle cx="363.7" cy="325.7" r="2.6"/>
<circle cx="366.3" cy="332.8" r="2.6"/>
<circle cx="378.5" cy="331.9" r="2.6"/>
<circle cx="370.0" cy="346.2" r="2.6"/>
<circle cx="387.1" cy="349.0" r="2.6"/>
<circle cx="393.7" cy="348.2" r="2.6"/>
<circle cx="377.3" cy="349.4" r="2.6"/>
<circle cx="390.1" cy="348.7" r="2.6"/>
<circle cx="385.8" cy="349.0" r="2.6"/>
<circle cx="374.7" cy="348.0" r="2.6"/>
<circle cx="392.8" cy="347.8" r="2.6"/>
<circle cx="390.2" cy="349.1" r="2.6"/>
<circle cx="386.2" cy="349.3" r="2.6"/>
<circle cx="380.7" cy="348.5" r="2.6"/>
<circle cx="385.5" cy="346.8" r="2.6"/>
<circle cx="388.0" cy="348.3" r="2.6"/>
<circle cx="393.0" cy="348.2" r="2.6"/>
<circle cx="362.1" cy="347.9" r="2.6"/>
<circle cx="387.4" cy="348.1" r="2.6"/>
</g>
<path d="M362.1 342.6 L380.0 341.5 L400.0 340.5 L420.0 339.9 L460.0 339.6 L521.7 339.5" fill="none" stroke="#DF536B" stroke-width="1.1"/>
<line x1="353.5" y1="341.0" x2="527.7" y2="341.0" stroke="#BEBEBE" stroke-width="1" stroke-dasharray="1 3"/>
<line x1="360.0" y1="274.7" x2="360.0" y2="358.1" stroke="#BEBEBE" stroke-width="1" stroke-dasharray="1 3"/>
<path d="M385.8 275.4 L386.5 276.4 L387.3 277.3 L388.1 278.2 L388.8 279.0 L389.6 279.8 L390.3 280.6 L391.1 281.4 L391.9 282.1 L392.6 282.8 L393.4 283.5 L394.1 284.1 L394.9 284.8 L395.6 285.4 L396.4 286.0 L397.2 286.6 L397.9 287.1 L398.7 287.7 L399.4 288.2 L400.2 288.7 L401.0 289.2 L401.7 289.7 L402.5 290.2 L403.2 290.6 L404.0 291.1 L404.7 291.5 L405.5 291.9 L406.3 292.4 L407.0 292.8 L407.8 293.2 L408.5 293.6 L409.3 293.9 L410.1 294.3 L410.8 294.7 L411.6 295.0 L412.3 295.4 L413.1 295.7 L413.8 296.0 L414.6 296.4 L415.4 296.7 L416.1 297.0 L416.9 297.3 L417.6 297.6 L418.4 297.9 L419.2 298.2 L419.9 298.5 L420.7 298.7 L421.4 299.0 L422.2 299.3 L422.9 299.5 L423.7 299.8 L424.5 300.1 L425.2 300.3 L426.0 300.5 L426.7 300.8 L427.5 301.0 L428.3 301.3 L429.0 301.5 L429.8 301.7 L430.5 301.9 L431.3 302.2 L432.0 302.4 L432.8 302.6 L433.6 302.8 L434.3 303.0 L435.1 303.2 L435.8 303.4 L436.6 303.6 L437.4 303.8 L438.1 304.0 L438.9 304.2 L439.6 304.4 L440.4 304.5 L441.1 304.7 L441.9 304.9 L442.7 305.1 L443.4 305.2 L444.2 305.4 L444.9 305.6 L445.7 305.7 L446.5 305.9 L447.2 306.1 L448.0 306.2 L448.7 306.4 L449.5 306.5 L450.2 306.7 L451.0 306.9 L451.8 307.0 L452.5 307.2 L453.3 307.3 L454.0 307.4 L454.8 307.6 L455.6 307.7 L456.3 307.9 L457.1 308.0 L457.8 308.1 L458.6 308.3 L459.3 308.4 L460.1 308.5 L460.9 308.7 L461.6 308.8 L462.4 308.9 L463.1 309.1 L463.9 309.2 L464.7 309.3 L465.4 309.4 L466.2 309.6 L466.9 309.7 L467.7 309.8 L468.4 309.9 L469.2 310.0 L470.0 310.1 L470.7 310.3 L471.5 310.4 L472.2 310.5 L473.0 310.6 L473.8 310.7 L474.5 310.8 L475.3 310.9 L476.0 311.0 L476.8 311.1 L477.5 311.2 L478.3 311.3 L479.1 311.4 L479.8 311.5 L480.6 311.6 L481.3 311.7 L482.1 311.8 L482.9 311.9 L483.6 312.0 L484.4 312.1 L485.1 312.2 L485.9 312.3 L486.6 312.4 L487.4 312.5 L488.2 312.6 L488.9 312.7 L489.7 312.8 L490.4 312.9 L491.2 313.0 L492.0 313.1 L492.7 313.1 L493.5 313.2 L494.2 313.3 L495.0 313.4 L495.7 313.5 L496.5 313.6 L497.3 313.7 L498.0 313.7 L498.8 313.8 L499.5 313.9 L500.3 314.0 L501.1 314.1 L501.8 314.1 L502.6 314.2 L503.3 314.3 L504.1 314.4 L504.8 314.5 L505.6 314.5 L506.4 314.6 L507.1 314.7 L507.9 314.8 L508.6 314.8 L509.4 314.9 L510.2 315.0 L510.9 315.0 L511.7 315.1 L512.4 315.2 L513.2 315.3 L513.9 315.3 L514.7 315.4 L515.5 315.5 L516.2 315.5 L517.0 315.6 L517.7 315.7 L518.5 315.7 L519.3 315.8 L520.0 315.9 L520.8 315.9 L521.5 316.0 L522.3 316.1 L523.0 316.1 L523.8 316.2 L524.6 316.3 L525.3 316.3 L526.1 316.4 L526.8 316.5 L527.6 316.5 L527.7 316.5" fill="none" stroke="#8A8A8A" stroke-width="1.1" stroke-dasharray="4 4"/>
<path d="M410.1 275.0 L410.8 275.5 L411.6 276.0 L412.3 276.5 L413.1 276.9 L413.8 277.4 L414.6 277.9 L415.4 278.3 L416.1 278.8 L416.9 279.2 L417.6 279.6 L418.4 280.0 L419.2 280.4 L419.9 280.8 L420.7 281.2 L421.4 281.6 L422.2 282.0 L422.9 282.4 L423.7 282.7 L424.5 283.1 L425.2 283.4 L426.0 283.8 L426.7 284.1 L427.5 284.5 L428.3 284.8 L429.0 285.1 L429.8 285.4 L430.5 285.8 L431.3 286.1 L432.0 286.4 L432.8 286.7 L433.6 287.0 L434.3 287.3 L435.1 287.5 L435.8 287.8 L436.6 288.1 L437.4 288.4 L438.1 288.6 L438.9 288.9 L439.6 289.2 L440.4 289.4 L441.1 289.7 L441.9 289.9 L442.7 290.2 L443.4 290.4 L444.2 290.7 L444.9 290.9 L445.7 291.1 L446.5 291.4 L447.2 291.6 L448.0 291.8 L448.7 292.1 L449.5 292.3 L450.2 292.5 L451.0 292.7 L451.8 292.9 L452.5 293.1 L453.3 293.3 L454.0 293.5 L454.8 293.7 L455.6 294.0 L456.3 294.1 L457.1 294.3 L457.8 294.5 L458.6 294.7 L459.3 294.9 L460.1 295.1 L460.9 295.3 L461.6 295.5 L462.4 295.7 L463.1 295.8 L463.9 296.0 L464.7 296.2 L465.4 296.4 L466.2 296.5 L466.9 296.7 L467.7 296.9 L468.4 297.0 L469.2 297.2 L470.0 297.4 L470.7 297.5 L471.5 297.7 L472.2 297.8 L473.0 298.0 L473.8 298.2 L474.5 298.3 L475.3 298.5 L476.0 298.6 L476.8 298.8 L477.5 298.9 L478.3 299.1 L479.1 299.2 L479.8 299.3 L480.6 299.5 L481.3 299.6 L482.1 299.8 L482.9 299.9 L483.6 300.0 L484.4 300.2 L485.1 300.3 L485.9 300.4 L486.6 300.6 L487.4 300.7 L488.2 300.8 L488.9 301.0 L489.7 301.1 L490.4 301.2 L491.2 301.4 L492.0 301.5 L492.7 301.6 L493.5 301.7 L494.2 301.8 L495.0 302.0 L495.7 302.1 L496.5 302.2 L497.3 302.3 L498.0 302.4 L498.8 302.6 L499.5 302.7 L500.3 302.8 L501.1 302.9 L501.8 303.0 L502.6 303.1 L503.3 303.2 L504.1 303.3 L504.8 303.5 L505.6 303.6 L506.4 303.7 L507.1 303.8 L507.9 303.9 L508.6 304.0 L509.4 304.1 L510.2 304.2 L510.9 304.3 L511.7 304.4 L512.4 304.5 L513.2 304.6 L513.9 304.7 L514.7 304.8 L515.5 304.9 L516.2 305.0 L517.0 305.1 L517.7 305.2 L518.5 305.3 L519.3 305.4 L520.0 305.5 L520.8 305.6 L521.5 305.7 L522.3 305.8 L523.0 305.8 L523.8 305.9 L524.6 306.0 L525.3 306.1 L526.1 306.2 L526.8 306.3 L527.6 306.4 L527.7 306.4" fill="none" stroke="#8A8A8A" stroke-width="1.1" stroke-dasharray="4 4"/>
<text transform="translate(532.50 320.80) scale(1.0145 1)" x="-0.51" y="0" font-size="10.4" fill="#9E9E9E" stroke="#9E9E9E" >0.5</text>
<text x="366.6" y="287.0" font-size="10.8" text-anchor="start" stroke="#000">89</text>
<text x="393.7" y="329.1" font-size="10.8" text-anchor="start" stroke="#000">734</text>
<text x="428.1" y="330.9" font-size="10.8" text-anchor="start" stroke="#000">741</text>
</svg></body></html>
